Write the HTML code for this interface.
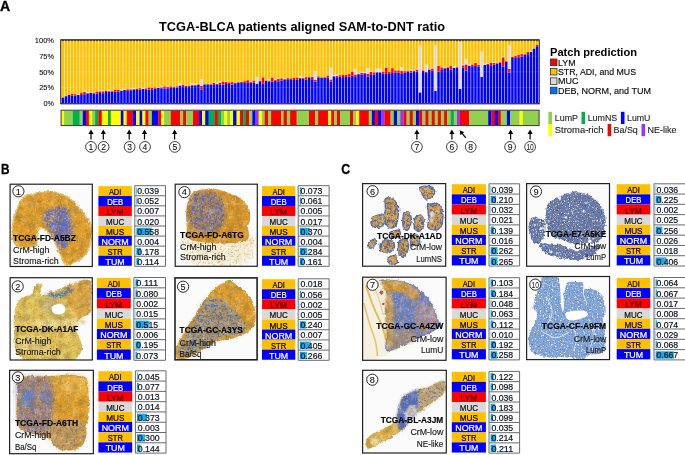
<!DOCTYPE html>
<html lang="en"><head><meta charset="utf-8"><title>TCGA-BLCA patients aligned SAM-to-DNT ratio</title>
<style>html,body{margin:0;padding:0;background:#fff}svg{display:block;font-family:"Liberation Sans", Arial, sans-serif}</style></head>
<body>
<svg width="685" height="455" viewBox="0 0 685 455">
<rect width="685" height="455" fill="#fff"/>
<text x="-0.10" y="10.70" font-size="15.2" text-anchor="start" font-weight="bold" stroke="#000" stroke-width="0.3" textLength="10.20" lengthAdjust="spacingAndGlyphs">A</text>
<text x="1.00" y="174.30" font-size="15.2" text-anchor="start" font-weight="bold" stroke="#000" stroke-width="0.35" textLength="8.50" lengthAdjust="spacingAndGlyphs">B</text>
<text x="341.20" y="174.40" font-size="15.2" text-anchor="start" font-weight="bold" stroke="#000" stroke-width="0.35" textLength="8.90" lengthAdjust="spacingAndGlyphs">C</text>
<text x="159.00" y="30.70" font-size="12.4" text-anchor="start" font-weight="bold" textLength="286.00" lengthAdjust="spacingAndGlyphs">TCGA-BLCA patients aligned SAM-to-DNT ratio</text>
<rect x="60.80" y="39.80" width="478.40" height="64.00" fill="#fff" stroke="#000" stroke-width="1.0"/>
<path fill="#FFC000" d="M61.68 40.40h2.52V97.45h-2.52zM64.76 40.40h2.52V96.14h-2.52zM67.83 40.40h2.52V94.94h-2.52zM70.91 40.40h2.52V93.81h-2.52zM73.99 40.40h2.52V94.31h-2.52zM77.07 40.40h2.52V93.93h-2.52zM80.15 40.40h2.52V93.09h-2.52zM83.23 40.40h2.52V90.99h-2.52zM86.31 40.40h2.52V92.54h-2.52zM89.39 40.40h2.52V93.01h-2.52zM92.46 40.40h2.52V93.01h-2.52zM95.54 40.40h2.52V91.65h-2.52zM98.62 40.40h2.52V90.08h-2.52zM101.70 40.40h2.52V90.56h-2.52zM104.78 40.40h2.52V91.03h-2.52zM107.86 40.40h2.52V90.55h-2.52zM110.94 40.40h2.52V91.32h-2.52zM114.02 40.40h2.52V90.06h-2.52zM117.09 40.40h2.52V90.09h-2.52zM120.17 40.40h2.52V89.36h-2.52zM123.25 40.40h2.52V89.29h-2.52zM126.33 40.40h2.52V89.62h-2.52zM129.41 40.40h2.52V88.44h-2.52zM132.49 40.40h2.52V88.44h-2.52zM135.57 40.40h2.52V89.08h-2.52zM138.64 40.40h2.52V88.15h-2.52zM141.72 40.40h2.52V87.88h-2.52zM144.80 40.40h2.52V88.38h-2.52zM147.88 40.40h2.52V87.61h-2.52zM150.96 40.40h2.52V87.80h-2.52zM154.04 40.40h2.52V87.58h-2.52zM157.12 40.40h2.52V88.02h-2.52zM160.20 40.40h2.52V86.16h-2.52zM163.27 40.40h2.52V86.52h-2.52zM166.35 40.40h2.52V85.81h-2.52zM169.43 40.40h2.52V86.58h-2.52zM172.51 40.40h2.52V87.16h-2.52zM175.59 40.40h2.52V86.51h-2.52zM178.67 40.40h2.52V83.00h-2.52zM181.75 40.40h2.52V84.95h-2.52zM184.83 40.40h2.52V84.75h-2.52zM187.90 40.40h2.52V85.64h-2.52zM190.98 40.40h2.52V83.51h-2.52zM194.06 40.40h2.52V83.77h-2.52zM197.14 40.40h2.52V84.45h-2.52zM200.22 40.40h2.52V79.00h-2.52zM203.30 40.40h2.52V84.52h-2.52zM206.38 40.40h2.52V83.89h-2.52zM209.46 40.40h2.52V84.23h-2.52zM212.53 40.40h2.52V82.33h-2.52zM215.61 40.40h2.52V82.67h-2.52zM218.69 40.40h2.52V81.25h-2.52zM221.77 40.40h2.52V81.70h-2.52zM224.85 40.40h2.52V81.05h-2.52zM227.93 40.40h2.52V82.54h-2.52zM231.01 40.40h2.52V82.23h-2.52zM234.08 40.40h2.52V83.18h-2.52zM237.16 40.40h2.52V82.61h-2.52zM240.24 40.40h2.52V82.27h-2.52zM243.32 40.40h2.52V81.17h-2.52zM246.40 40.40h2.52V80.20h-2.52zM249.48 40.40h2.52V81.23h-2.52zM252.56 40.40h2.52V80.63h-2.52zM255.64 40.40h2.52V77.50h-2.52zM258.71 40.40h2.52V81.25h-2.52zM261.79 40.40h2.52V77.50h-2.52zM264.87 40.40h2.52V80.85h-2.52zM267.95 40.40h2.52V79.44h-2.52zM271.03 40.40h2.52V77.80h-2.52zM274.11 40.40h2.52V79.23h-2.52zM277.19 40.40h2.52V78.35h-2.52zM280.27 40.40h2.52V78.51h-2.52zM283.34 40.40h2.52V78.06h-2.52zM286.42 40.40h2.52V78.19h-2.52zM289.50 40.40h2.52V78.41h-2.52zM292.58 40.40h2.52V78.12h-2.52zM295.66 40.40h2.52V77.82h-2.52zM298.74 40.40h2.52V76.58h-2.52zM301.82 40.40h2.52V77.21h-2.52zM304.90 40.40h2.52V77.23h-2.52zM307.97 40.40h2.52V77.17h-2.52zM311.05 40.40h2.52V76.32h-2.52zM314.13 40.40h2.52V71.00h-2.52zM317.21 40.40h2.52V76.59h-2.52zM320.29 40.40h2.52V77.38h-2.52zM323.37 40.40h2.52V77.19h-2.52zM326.45 40.40h2.52V75.86h-2.52zM329.52 40.40h2.52V67.80h-2.52zM332.60 40.40h2.52V75.07h-2.52zM335.68 40.40h2.52V74.86h-2.52zM338.76 40.40h2.52V75.14h-2.52zM341.84 40.40h2.52V74.84h-2.52zM344.92 40.40h2.52V74.89h-2.52zM348.00 40.40h2.52V74.22h-2.52zM351.08 40.40h2.52V71.70h-2.52zM354.15 40.40h2.52V69.00h-2.52zM357.23 40.40h2.52V73.09h-2.52zM360.31 40.40h2.52V71.96h-2.52zM363.39 40.40h2.52V72.37h-2.52zM366.47 40.40h2.52V68.00h-2.52zM369.55 40.40h2.52V70.89h-2.52zM372.63 40.40h2.52V72.55h-2.52zM375.71 40.40h2.52V68.80h-2.52zM378.78 40.40h2.52V68.80h-2.52zM381.86 40.40h2.52V71.79h-2.52zM384.94 40.40h2.52V67.80h-2.52zM388.02 40.40h2.52V71.74h-2.52zM391.10 40.40h2.52V68.30h-2.52zM394.18 40.40h2.52V70.79h-2.52zM397.26 40.40h2.52V70.61h-2.52zM400.34 40.40h2.52V67.20h-2.52zM403.41 40.40h2.52V71.30h-2.52zM406.49 40.40h2.52V70.95h-2.52zM409.57 40.40h2.52V69.41h-2.52zM412.65 40.40h2.52V71.31h-2.52zM415.73 40.40h2.52V68.85h-2.52zM418.81 40.40h2.52V45.70h-2.52zM421.89 40.40h2.52V70.47h-2.52zM424.96 40.40h2.52V64.80h-2.52zM428.04 40.40h2.52V69.80h-2.52zM431.12 40.40h2.52V67.84h-2.52zM434.20 40.40h2.52V45.00h-2.52zM437.28 40.40h2.52V66.00h-2.52zM440.36 40.40h2.52V67.44h-2.52zM443.44 40.40h2.52V67.00h-2.52zM446.52 40.40h2.52V67.51h-2.52zM449.59 40.40h2.52V66.00h-2.52zM452.67 40.40h2.52V66.55h-2.52zM455.75 40.40h2.52V67.61h-2.52zM458.83 40.40h2.52V42.50h-2.52zM461.91 40.40h2.52V64.13h-2.52zM464.99 40.40h2.52V59.40h-2.52zM468.07 40.40h2.52V64.38h-2.52zM471.15 40.40h2.52V64.81h-2.52zM474.22 40.40h2.52V63.00h-2.52zM477.30 40.40h2.52V64.29h-2.52zM480.38 40.40h2.52V51.00h-2.52zM483.46 40.40h2.52V63.82h-2.52zM486.54 40.40h2.52V63.35h-2.52zM489.62 40.40h2.52V63.02h-2.52zM492.70 40.40h2.52V62.14h-2.52zM495.78 40.40h2.52V63.56h-2.52zM498.85 40.40h2.52V62.25h-2.52zM501.93 40.40h2.52V56.00h-2.52zM505.01 40.40h2.52V61.22h-2.52zM508.09 40.40h2.52V45.20h-2.52zM511.17 40.40h2.52V57.07h-2.52zM514.25 40.40h2.52V54.63h-2.52zM517.33 40.40h2.52V55.00h-2.52zM520.40 40.40h2.52V54.24h-2.52zM523.48 40.40h2.52V54.41h-2.52zM526.56 40.40h2.52V52.01h-2.52zM529.64 40.40h2.52V51.35h-2.52zM532.72 40.40h2.52V48.66h-2.52zM535.80 40.40h2.52V44.98h-2.52z"/>
<path fill="#0000FF" d="M61.68 98.08h2.52V103.20h-2.52zM64.76 96.14h2.52V103.20h-2.52zM67.83 94.94h2.52V103.20h-2.52zM70.91 95.69h2.52V103.20h-2.52zM73.99 95.70h2.52V103.20h-2.52zM77.07 94.68h2.52V103.20h-2.52zM80.15 94.98h2.52V103.20h-2.52zM83.23 94.32h2.52V103.20h-2.52zM86.31 93.30h2.52V103.20h-2.52zM89.39 93.01h2.52V103.20h-2.52zM92.46 93.51h2.52V103.20h-2.52zM95.54 93.53h2.52V103.20h-2.52zM98.62 93.09h2.52V103.20h-2.52zM101.70 93.19h2.52V103.20h-2.52zM104.78 91.97h2.52V103.20h-2.52zM107.86 91.30h2.52V103.20h-2.52zM110.94 91.82h2.52V103.20h-2.52zM114.02 91.45h2.52V103.20h-2.52zM117.09 91.47h2.52V103.20h-2.52zM120.17 90.99h2.52V103.20h-2.52zM123.25 90.04h2.52V103.20h-2.52zM126.33 91.00h2.52V103.20h-2.52zM129.41 90.14h2.52V103.20h-2.52zM132.49 89.20h2.52V103.20h-2.52zM135.57 90.02h2.52V103.20h-2.52zM138.64 89.53h2.52V103.20h-2.52zM141.72 88.64h2.52V103.20h-2.52zM144.80 89.32h2.52V103.20h-2.52zM147.88 89.49h2.52V103.20h-2.52zM150.96 89.18h2.52V103.20h-2.52zM154.04 88.53h2.52V103.20h-2.52zM157.12 88.02h2.52V103.20h-2.52zM160.20 88.23h2.52V103.20h-2.52zM163.27 88.72h2.52V103.20h-2.52zM166.35 88.32h2.52V103.20h-2.52zM169.43 87.97h2.52V103.20h-2.52zM172.51 87.16h2.52V103.20h-2.52zM175.59 87.45h2.52V103.20h-2.52zM178.67 85.50h2.52V103.20h-2.52zM181.75 86.33h2.52V103.20h-2.52zM184.83 86.89h2.52V103.20h-2.52zM187.90 86.14h2.52V103.20h-2.52zM190.98 85.58h2.52V103.20h-2.52zM194.06 85.84h2.52V103.20h-2.52zM197.14 84.95h2.52V103.20h-2.52zM200.22 89.50h2.52V103.20h-2.52zM203.30 84.52h2.52V103.20h-2.52zM206.38 84.39h2.52V103.20h-2.52zM209.46 84.74h2.52V103.20h-2.52zM212.53 84.97h2.52V103.20h-2.52zM215.61 84.30h2.52V103.20h-2.52zM218.69 84.26h2.52V103.20h-2.52zM221.77 84.50h2.52V103.20h-2.52zM224.85 84.00h2.52V103.20h-2.52zM227.93 83.92h2.52V103.20h-2.52zM231.01 84.43h2.52V103.20h-2.52zM234.08 83.18h2.52V103.20h-2.52zM237.16 82.61h2.52V103.20h-2.52zM240.24 82.27h2.52V103.20h-2.52zM243.32 83.05h2.52V103.20h-2.52zM246.40 83.00h2.52V103.20h-2.52zM249.48 82.48h2.52V103.20h-2.52zM252.56 82.83h2.52V103.20h-2.52zM255.64 83.70h2.52V103.20h-2.52zM258.71 81.25h2.52V103.20h-2.52zM261.79 83.70h2.52V103.20h-2.52zM264.87 80.85h2.52V103.20h-2.52zM267.95 81.51h2.52V103.20h-2.52zM271.03 81.40h2.52V103.20h-2.52zM274.11 80.49h2.52V103.20h-2.52zM277.19 81.30h2.52V103.20h-2.52zM280.27 80.39h2.52V103.20h-2.52zM283.34 79.19h2.52V103.20h-2.52zM286.42 80.08h2.52V103.20h-2.52zM289.50 79.35h2.52V103.20h-2.52zM292.58 80.00h2.52V103.20h-2.52zM295.66 79.71h2.52V103.20h-2.52zM298.74 79.09h2.52V103.20h-2.52zM301.82 78.46h2.52V103.20h-2.52zM304.90 79.43h2.52V103.20h-2.52zM307.97 78.11h2.52V103.20h-2.52zM311.05 79.28h2.52V103.20h-2.52zM314.13 81.80h2.52V103.20h-2.52zM317.21 77.53h2.52V103.20h-2.52zM320.29 77.88h2.52V103.20h-2.52zM323.37 77.69h2.52V103.20h-2.52zM326.45 77.74h2.52V103.20h-2.52zM329.52 81.70h2.52V103.20h-2.52zM332.60 76.20h2.52V103.20h-2.52zM335.68 77.37h2.52V103.20h-2.52zM338.76 76.52h2.52V103.20h-2.52zM341.84 77.04h2.52V103.20h-2.52zM344.92 77.09h2.52V103.20h-2.52zM348.00 76.42h2.52V103.20h-2.52zM351.08 75.20h2.52V103.20h-2.52zM354.15 77.00h2.52V103.20h-2.52zM357.23 74.34h2.52V103.20h-2.52zM360.31 74.47h2.52V103.20h-2.52zM363.39 73.62h2.52V103.20h-2.52zM366.47 76.80h2.52V103.20h-2.52zM369.55 74.22h2.52V103.20h-2.52zM372.63 74.74h2.52V103.20h-2.52zM375.71 72.20h2.52V103.20h-2.52zM378.78 72.20h2.52V103.20h-2.52zM381.86 73.68h2.52V103.20h-2.52zM384.94 74.00h2.52V103.20h-2.52zM388.02 73.93h2.52V103.20h-2.52zM391.10 73.00h2.52V103.20h-2.52zM394.18 72.68h2.52V103.20h-2.52zM397.26 72.50h2.52V103.20h-2.52zM400.34 74.00h2.52V103.20h-2.52zM403.41 72.68h2.52V103.20h-2.52zM406.49 71.46h2.52V103.20h-2.52zM409.57 72.42h2.52V103.20h-2.52zM412.65 71.31h2.52V103.20h-2.52zM415.73 71.49h2.52V103.20h-2.52zM418.81 93.00h2.52V103.20h-2.52zM421.89 70.97h2.52V103.20h-2.52zM424.96 73.00h2.52V103.20h-2.52zM428.04 69.80h2.52V103.20h-2.52zM431.12 70.48h2.52V103.20h-2.52zM434.20 91.00h2.52V103.20h-2.52zM437.28 71.70h2.52V103.20h-2.52zM440.36 69.33h2.52V103.20h-2.52zM443.44 68.70h2.52V103.20h-2.52zM446.52 68.01h2.52V103.20h-2.52zM449.59 69.50h2.52V103.20h-2.52zM452.67 67.68h2.52V103.20h-2.52zM455.75 67.61h2.52V103.20h-2.52zM458.83 89.00h2.52V103.20h-2.52zM461.91 67.46h2.52V103.20h-2.52zM464.99 70.60h2.52V103.20h-2.52zM468.07 66.02h2.52V103.20h-2.52zM471.15 66.19h2.52V103.20h-2.52zM474.22 66.00h2.52V103.20h-2.52zM477.30 66.42h2.52V103.20h-2.52zM480.38 76.80h2.52V103.20h-2.52zM483.46 64.95h2.52V103.20h-2.52zM486.54 65.05h2.52V103.20h-2.52zM489.62 65.22h2.52V103.20h-2.52zM492.70 64.78h2.52V103.20h-2.52zM495.78 63.56h2.52V103.20h-2.52zM498.85 62.75h2.52V103.20h-2.52zM501.93 66.80h2.52V103.20h-2.52zM505.01 61.73h2.52V103.20h-2.52zM508.09 72.50h2.52V103.20h-2.52zM511.17 58.01h2.52V103.20h-2.52zM514.25 57.27h2.52V103.20h-2.52zM517.33 58.00h2.52V103.20h-2.52zM520.40 56.44h2.52V103.20h-2.52zM523.48 54.41h2.52V103.20h-2.52zM526.56 54.20h2.52V103.20h-2.52zM529.64 52.10h2.52V103.20h-2.52zM532.72 48.66h2.52V103.20h-2.52zM535.80 46.37h2.52V103.20h-2.52z"/>
<path fill="#FF0000" d="M61.68 97.45h2.52V98.08h-2.52zM70.91 93.81h2.52V95.69h-2.52zM73.99 94.31h2.52V95.70h-2.52zM80.15 93.09h2.52V94.98h-2.52zM83.23 92.12h2.52V94.32h-2.52zM92.46 93.01h2.52V93.51h-2.52zM95.54 91.65h2.52V93.53h-2.52zM98.62 91.21h2.52V93.09h-2.52zM101.70 91.31h2.52V93.19h-2.52zM104.78 91.03h2.52V91.97h-2.52zM110.94 91.32h2.52V91.82h-2.52zM114.02 90.06h2.52V91.45h-2.52zM117.09 90.09h2.52V91.47h-2.52zM120.17 90.49h2.52V90.99h-2.52zM126.33 89.62h2.52V91.00h-2.52zM129.41 89.19h2.52V90.14h-2.52zM135.57 89.08h2.52V90.02h-2.52zM138.64 88.15h2.52V89.53h-2.52zM144.80 88.38h2.52V89.32h-2.52zM147.88 87.61h2.52V89.49h-2.52zM150.96 87.80h2.52V89.18h-2.52zM154.04 87.58h2.52V88.53h-2.52zM160.20 87.29h2.52V88.23h-2.52zM163.27 86.52h2.52V88.72h-2.52zM166.35 86.94h2.52V88.32h-2.52zM169.43 86.58h2.52V87.97h-2.52zM175.59 86.51h2.52V87.45h-2.52zM181.75 84.95h2.52V86.33h-2.52zM184.83 85.51h2.52V86.89h-2.52zM187.90 85.64h2.52V86.14h-2.52zM190.98 84.64h2.52V85.58h-2.52zM194.06 84.90h2.52V85.84h-2.52zM197.14 84.45h2.52V84.95h-2.52zM200.22 86.00h2.52V89.50h-2.52zM206.38 83.89h2.52V84.39h-2.52zM209.46 84.23h2.52V84.74h-2.52zM212.53 83.08h2.52V84.97h-2.52zM215.61 83.80h2.52V84.30h-2.52zM218.69 82.38h2.52V84.26h-2.52zM221.77 81.70h2.52V84.50h-2.52zM224.85 81.81h2.52V84.00h-2.52zM227.93 82.54h2.52V83.92h-2.52zM231.01 82.23h2.52V84.43h-2.52zM243.32 81.17h2.52V83.05h-2.52zM246.40 80.20h2.52V83.00h-2.52zM249.48 81.98h2.52V82.48h-2.52zM252.56 80.63h2.52V82.83h-2.52zM261.79 77.50h2.52V83.70h-2.52zM267.95 80.57h2.52V81.51h-2.52zM271.03 77.80h2.52V81.40h-2.52zM274.11 79.99h2.52V80.49h-2.52zM277.19 79.10h2.52V81.30h-2.52zM280.27 78.51h2.52V80.39h-2.52zM286.42 78.19h2.52V80.08h-2.52zM289.50 78.41h2.52V79.35h-2.52zM292.58 78.12h2.52V80.00h-2.52zM295.66 77.82h2.52V79.71h-2.52zM298.74 77.71h2.52V79.09h-2.52zM301.82 77.96h2.52V78.46h-2.52zM304.90 77.23h2.52V79.43h-2.52zM307.97 77.17h2.52V78.11h-2.52zM311.05 77.08h2.52V79.28h-2.52zM314.13 79.80h2.52V81.80h-2.52zM317.21 76.59h2.52V77.53h-2.52zM320.29 77.38h2.52V77.88h-2.52zM323.37 77.19h2.52V77.69h-2.52zM326.45 75.86h2.52V77.74h-2.52zM329.52 79.50h2.52V81.70h-2.52zM335.68 75.99h2.52V77.37h-2.52zM338.76 75.14h2.52V76.52h-2.52zM341.84 74.84h2.52V77.04h-2.52zM344.92 74.89h2.52V77.09h-2.52zM348.00 74.22h2.52V76.42h-2.52zM351.08 71.70h2.52V75.20h-2.52zM354.15 74.50h2.52V77.00h-2.52zM357.23 73.84h2.52V74.34h-2.52zM360.31 73.09h2.52V74.47h-2.52zM363.39 73.12h2.52V73.62h-2.52zM366.47 73.70h2.52V76.80h-2.52zM369.55 72.02h2.52V74.22h-2.52zM372.63 72.55h2.52V74.74h-2.52zM381.86 71.79h2.52V73.68h-2.52zM384.94 67.80h2.52V74.00h-2.52zM388.02 71.74h2.52V73.93h-2.52zM391.10 68.30h2.52V73.00h-2.52zM394.18 70.79h2.52V72.68h-2.52zM397.26 70.61h2.52V72.50h-2.52zM400.34 71.00h2.52V74.00h-2.52zM403.41 71.30h2.52V72.68h-2.52zM406.49 70.95h2.52V71.46h-2.52zM409.57 70.54h2.52V72.42h-2.52zM415.73 69.61h2.52V71.49h-2.52zM418.81 92.20h2.52V93.00h-2.52zM421.89 70.47h2.52V70.97h-2.52zM424.96 71.70h2.52V73.00h-2.52zM431.12 68.60h2.52V70.48h-2.52zM437.28 66.00h2.52V71.70h-2.52zM440.36 67.44h2.52V69.33h-2.52zM443.44 67.75h2.52V68.70h-2.52zM446.52 67.51h2.52V68.01h-2.52zM449.59 66.00h2.52V69.50h-2.52zM461.91 65.26h2.52V67.46h-2.52zM464.99 64.50h2.52V70.60h-2.52zM468.07 65.51h2.52V66.02h-2.52zM471.15 64.81h2.52V66.19h-2.52zM474.22 63.00h2.52V66.00h-2.52zM477.30 65.04h2.52V66.42h-2.52zM486.54 64.11h2.52V65.05h-2.52zM489.62 63.02h2.52V65.22h-2.52zM492.70 62.89h2.52V64.78h-2.52zM498.85 62.25h2.52V62.75h-2.52zM501.93 57.20h2.52V66.80h-2.52zM505.01 61.22h2.52V61.73h-2.52zM508.09 68.80h2.52V72.50h-2.52zM511.17 57.07h2.52V58.01h-2.52zM514.25 55.39h2.52V57.27h-2.52zM517.33 55.00h2.52V58.00h-2.52zM520.40 54.24h2.52V56.44h-2.52zM526.56 52.01h2.52V54.20h-2.52zM535.80 44.98h2.52V46.37h-2.52z"/>
<path fill="#D9D9D9" d="M77.07 93.93h2.52V94.68h-2.52zM83.23 90.99h2.52V92.12h-2.52zM86.31 92.54h2.52V93.30h-2.52zM98.62 90.08h2.52V91.21h-2.52zM101.70 90.56h2.52V91.31h-2.52zM107.86 90.55h2.52V91.30h-2.52zM120.17 89.36h2.52V90.49h-2.52zM123.25 89.29h2.52V90.04h-2.52zM129.41 88.44h2.52V89.19h-2.52zM132.49 88.44h2.52V89.20h-2.52zM141.72 87.88h2.52V88.64h-2.52zM160.20 86.16h2.52V87.29h-2.52zM166.35 85.81h2.52V86.94h-2.52zM178.67 83.00h2.52V85.50h-2.52zM184.83 84.75h2.52V85.51h-2.52zM190.98 83.51h2.52V84.64h-2.52zM194.06 83.77h2.52V84.90h-2.52zM200.22 79.00h2.52V86.00h-2.52zM212.53 82.33h2.52V83.08h-2.52zM215.61 82.67h2.52V83.80h-2.52zM218.69 81.25h2.52V82.38h-2.52zM224.85 81.05h2.52V81.81h-2.52zM249.48 81.23h2.52V81.98h-2.52zM255.64 77.50h2.52V83.70h-2.52zM267.95 79.44h2.52V80.57h-2.52zM274.11 79.23h2.52V79.99h-2.52zM277.19 78.35h2.52V79.10h-2.52zM283.34 78.06h2.52V79.19h-2.52zM298.74 76.58h2.52V77.71h-2.52zM301.82 77.21h2.52V77.96h-2.52zM311.05 76.32h2.52V77.08h-2.52zM314.13 71.00h2.52V79.80h-2.52zM329.52 67.80h2.52V79.50h-2.52zM332.60 75.07h2.52V76.20h-2.52zM335.68 74.86h2.52V75.99h-2.52zM354.15 69.00h2.52V74.50h-2.52zM357.23 73.09h2.52V73.84h-2.52zM360.31 71.96h2.52V73.09h-2.52zM363.39 72.37h2.52V73.12h-2.52zM366.47 68.00h2.52V73.70h-2.52zM369.55 70.89h2.52V72.02h-2.52zM375.71 68.80h2.52V72.20h-2.52zM378.78 68.80h2.52V72.20h-2.52zM400.34 67.20h2.52V71.00h-2.52zM409.57 69.41h2.52V70.54h-2.52zM415.73 68.85h2.52V69.61h-2.52zM418.81 45.70h2.52V92.20h-2.52zM424.96 64.80h2.52V71.70h-2.52zM431.12 67.84h2.52V68.60h-2.52zM434.20 45.00h2.52V91.00h-2.52zM443.44 67.00h2.52V67.75h-2.52zM452.67 66.55h2.52V67.68h-2.52zM458.83 42.50h2.52V89.00h-2.52zM461.91 64.13h2.52V65.26h-2.52zM464.99 59.40h2.52V64.50h-2.52zM468.07 64.38h2.52V65.51h-2.52zM477.30 64.29h2.52V65.04h-2.52zM480.38 51.00h2.52V76.80h-2.52zM483.46 63.82h2.52V64.95h-2.52zM486.54 63.35h2.52V64.11h-2.52zM492.70 62.14h2.52V62.89h-2.52zM501.93 56.00h2.52V57.20h-2.52zM508.09 45.20h2.52V68.80h-2.52zM514.25 54.63h2.52V55.39h-2.52zM529.64 51.35h2.52V52.10h-2.52z"/>
<line x1="61.4" x2="538.6" y1="56.10" y2="56.10" stroke="#fff" stroke-opacity="0.18" stroke-width="0.6"/>
<line x1="61.4" x2="538.6" y1="71.80" y2="71.80" stroke="#fff" stroke-opacity="0.18" stroke-width="0.6"/>
<line x1="61.4" x2="538.6" y1="87.50" y2="87.50" stroke="#fff" stroke-opacity="0.18" stroke-width="0.6"/>
<line x1="61.68" x2="538.6" y1="40.60" y2="40.60" stroke="#000" stroke-width="0.9" stroke-dasharray="2.525 0.554" stroke-opacity="0.8"/>
<text x="54.00" y="43.10" font-size="7.7" text-anchor="end" fill="#111" stroke="#111" stroke-width="0.1" textLength="19.20" lengthAdjust="spacingAndGlyphs">100%</text>
<text x="54.00" y="58.80" font-size="7.7" text-anchor="end" fill="#111" stroke="#111" stroke-width="0.1" textLength="14.80" lengthAdjust="spacingAndGlyphs">75%</text>
<text x="54.00" y="74.50" font-size="7.7" text-anchor="end" fill="#111" stroke="#111" stroke-width="0.1" textLength="14.80" lengthAdjust="spacingAndGlyphs">50%</text>
<text x="54.00" y="90.20" font-size="7.7" text-anchor="end" fill="#111" stroke="#111" stroke-width="0.1" textLength="14.80" lengthAdjust="spacingAndGlyphs">25%</text>
<text x="54.00" y="105.90" font-size="7.7" text-anchor="end" fill="#111" stroke="#111" stroke-width="0.1" textLength="10.40" lengthAdjust="spacingAndGlyphs">0%</text>
<rect x="61.40" y="110.6" width="2.85" height="14.60" fill="#FFFF00"/>
<rect x="64.10" y="110.6" width="8.95" height="14.60" fill="#92D050"/>
<rect x="72.90" y="110.6" width="6.95" height="14.60" fill="#00B050"/>
<rect x="79.70" y="110.6" width="3.25" height="14.60" fill="#92D050"/>
<rect x="82.80" y="110.6" width="3.35" height="14.60" fill="#0000FF"/>
<rect x="86.00" y="110.6" width="3.05" height="14.60" fill="#FF0000"/>
<rect x="88.90" y="110.6" width="3.35" height="14.60" fill="#FFFF00"/>
<rect x="92.10" y="110.6" width="3.15" height="14.60" fill="#92D050"/>
<rect x="95.10" y="110.6" width="3.35" height="14.60" fill="#00B050"/>
<rect x="98.30" y="110.6" width="3.65" height="14.60" fill="#FF0000"/>
<rect x="101.80" y="110.6" width="6.35" height="14.60" fill="#FFFF00"/>
<rect x="108.00" y="110.6" width="2.95" height="14.60" fill="#00B050"/>
<rect x="110.80" y="110.6" width="10.15" height="14.60" fill="#FFFF00"/>
<rect x="120.80" y="110.6" width="2.95" height="14.60" fill="#0000FF"/>
<rect x="123.60" y="110.6" width="3.25" height="14.60" fill="#FFFF00"/>
<rect x="126.70" y="110.6" width="6.15" height="14.60" fill="#FF0000"/>
<rect x="132.70" y="110.6" width="3.55" height="14.60" fill="#0000FF"/>
<rect x="136.10" y="110.6" width="3.65" height="14.60" fill="#FFFF00"/>
<rect x="139.60" y="110.6" width="2.95" height="14.60" fill="#0000FF"/>
<rect x="142.40" y="110.6" width="3.15" height="14.60" fill="#FFFF00"/>
<rect x="145.40" y="110.6" width="3.35" height="14.60" fill="#FF0000"/>
<rect x="148.60" y="110.6" width="3.45" height="14.60" fill="#92D050"/>
<rect x="151.90" y="110.6" width="6.55" height="14.60" fill="#0000FF"/>
<rect x="158.30" y="110.6" width="2.95" height="14.60" fill="#FF0000"/>
<rect x="161.10" y="110.6" width="3.15" height="14.60" fill="#FFFF00"/>
<rect x="164.10" y="110.6" width="6.85" height="14.60" fill="#92D050"/>
<rect x="170.80" y="110.6" width="9.45" height="14.60" fill="#FF0000"/>
<rect x="180.10" y="110.6" width="3.15" height="14.60" fill="#92D050"/>
<rect x="183.10" y="110.6" width="3.25" height="14.60" fill="#FF0000"/>
<rect x="186.20" y="110.6" width="6.95" height="14.60" fill="#92D050"/>
<rect x="193.00" y="110.6" width="6.25" height="14.60" fill="#FF0000"/>
<rect x="199.10" y="110.6" width="3.15" height="14.60" fill="#0000FF"/>
<rect x="202.10" y="110.6" width="3.25" height="14.60" fill="#FFFF00"/>
<rect x="205.20" y="110.6" width="3.65" height="14.60" fill="#0000FF"/>
<rect x="208.70" y="110.6" width="6.15" height="14.60" fill="#00B050"/>
<rect x="214.70" y="110.6" width="3.25" height="14.60" fill="#FF0000"/>
<rect x="217.80" y="110.6" width="3.25" height="14.60" fill="#00B050"/>
<rect x="220.90" y="110.6" width="3.25" height="14.60" fill="#92D050"/>
<rect x="224.00" y="110.6" width="3.35" height="14.60" fill="#FFFF00"/>
<rect x="227.20" y="110.6" width="2.85" height="14.60" fill="#92D050"/>
<rect x="229.90" y="110.6" width="3.35" height="14.60" fill="#FFFF00"/>
<rect x="233.10" y="110.6" width="3.65" height="14.60" fill="#0000FF"/>
<rect x="236.60" y="110.6" width="3.55" height="14.60" fill="#FFFF00"/>
<rect x="240.00" y="110.6" width="3.25" height="14.60" fill="#FF0000"/>
<rect x="243.10" y="110.6" width="3.05" height="14.60" fill="#00B050"/>
<rect x="246.00" y="110.6" width="3.25" height="14.60" fill="#FF0000"/>
<rect x="249.10" y="110.6" width="3.35" height="14.60" fill="#92D050"/>
<rect x="252.30" y="110.6" width="3.35" height="14.60" fill="#0000FF"/>
<rect x="255.50" y="110.6" width="3.35" height="14.60" fill="#9933FF"/>
<rect x="258.70" y="110.6" width="3.45" height="14.60" fill="#FFFF00"/>
<rect x="262.00" y="110.6" width="2.85" height="14.60" fill="#92D050"/>
<rect x="264.70" y="110.6" width="3.45" height="14.60" fill="#FF0000"/>
<rect x="268.00" y="110.6" width="3.25" height="14.60" fill="#92D050"/>
<rect x="271.10" y="110.6" width="10.05" height="14.60" fill="#FF0000"/>
<rect x="281.00" y="110.6" width="2.75" height="14.60" fill="#92D050"/>
<rect x="283.60" y="110.6" width="3.45" height="14.60" fill="#FF0000"/>
<rect x="286.90" y="110.6" width="3.35" height="14.60" fill="#92D050"/>
<rect x="290.10" y="110.6" width="6.75" height="14.60" fill="#FF0000"/>
<rect x="296.70" y="110.6" width="12.45" height="14.60" fill="#92D050"/>
<rect x="309.00" y="110.6" width="6.35" height="14.60" fill="#FF0000"/>
<rect x="315.20" y="110.6" width="3.05" height="14.60" fill="#92D050"/>
<rect x="318.10" y="110.6" width="10.05" height="14.60" fill="#FF0000"/>
<rect x="328.00" y="110.6" width="3.35" height="14.60" fill="#FFFF00"/>
<rect x="331.20" y="110.6" width="3.05" height="14.60" fill="#FF0000"/>
<rect x="334.10" y="110.6" width="3.05" height="14.60" fill="#92D050"/>
<rect x="337.00" y="110.6" width="3.25" height="14.60" fill="#FF0000"/>
<rect x="340.10" y="110.6" width="10.05" height="14.60" fill="#92D050"/>
<rect x="350.00" y="110.6" width="3.35" height="14.60" fill="#FF0000"/>
<rect x="353.20" y="110.6" width="3.05" height="14.60" fill="#92D050"/>
<rect x="356.10" y="110.6" width="3.25" height="14.60" fill="#FFFF00"/>
<rect x="359.20" y="110.6" width="9.75" height="14.60" fill="#FF0000"/>
<rect x="368.80" y="110.6" width="3.25" height="14.60" fill="#92D050"/>
<rect x="371.90" y="110.6" width="3.05" height="14.60" fill="#0000FF"/>
<rect x="374.80" y="110.6" width="3.35" height="14.60" fill="#FF0000"/>
<rect x="378.00" y="110.6" width="3.45" height="14.60" fill="#0000FF"/>
<rect x="381.30" y="110.6" width="3.25" height="14.60" fill="#9933FF"/>
<rect x="384.40" y="110.6" width="6.35" height="14.60" fill="#FF0000"/>
<rect x="390.60" y="110.6" width="3.35" height="14.60" fill="#92D050"/>
<rect x="393.80" y="110.6" width="3.35" height="14.60" fill="#0000FF"/>
<rect x="397.00" y="110.6" width="3.35" height="14.60" fill="#92D050"/>
<rect x="400.20" y="110.6" width="3.45" height="14.60" fill="#9933FF"/>
<rect x="403.50" y="110.6" width="3.25" height="14.60" fill="#FF0000"/>
<rect x="406.60" y="110.6" width="3.25" height="14.60" fill="#92D050"/>
<rect x="409.70" y="110.6" width="3.25" height="14.60" fill="#FF0000"/>
<rect x="412.80" y="110.6" width="3.35" height="14.60" fill="#92D050"/>
<rect x="416.00" y="110.6" width="3.35" height="14.60" fill="#0000FF"/>
<rect x="419.20" y="110.6" width="3.35" height="14.60" fill="#FF0000"/>
<rect x="422.40" y="110.6" width="3.15" height="14.60" fill="#92D050"/>
<rect x="425.40" y="110.6" width="3.35" height="14.60" fill="#FF0000"/>
<rect x="428.60" y="110.6" width="3.25" height="14.60" fill="#92D050"/>
<rect x="431.70" y="110.6" width="3.25" height="14.60" fill="#FF0000"/>
<rect x="434.80" y="110.6" width="3.25" height="14.60" fill="#92D050"/>
<rect x="437.90" y="110.6" width="3.15" height="14.60" fill="#FF0000"/>
<rect x="440.90" y="110.6" width="3.35" height="14.60" fill="#92D050"/>
<rect x="444.10" y="110.6" width="3.15" height="14.60" fill="#FF0000"/>
<rect x="447.10" y="110.6" width="3.65" height="14.60" fill="#92D050"/>
<rect x="450.60" y="110.6" width="3.35" height="14.60" fill="#00B050"/>
<rect x="453.80" y="110.6" width="3.35" height="14.60" fill="#92D050"/>
<rect x="457.00" y="110.6" width="3.15" height="14.60" fill="#9933FF"/>
<rect x="460.00" y="110.6" width="9.45" height="14.60" fill="#FF0000"/>
<rect x="469.30" y="110.6" width="19.05" height="14.60" fill="#92D050"/>
<rect x="488.20" y="110.6" width="3.45" height="14.60" fill="#0000FF"/>
<rect x="491.50" y="110.6" width="3.55" height="14.60" fill="#FF0000"/>
<rect x="494.90" y="110.6" width="3.15" height="14.60" fill="#0000FF"/>
<rect x="497.90" y="110.6" width="3.05" height="14.60" fill="#FF0000"/>
<rect x="500.80" y="110.6" width="6.25" height="14.60" fill="#92D050"/>
<rect x="506.90" y="110.6" width="3.25" height="14.60" fill="#0000FF"/>
<rect x="510.00" y="110.6" width="9.75" height="14.60" fill="#92D050"/>
<rect x="519.60" y="110.6" width="3.35" height="14.60" fill="#FFFF00"/>
<rect x="522.80" y="110.6" width="16.15" height="14.60" fill="#92D050"/>
<rect x="61.10" y="110.20" width="478.00" height="15.40" fill="none" stroke="#333" stroke-width="1"/>
<path d="M91.00 129.40l2.6 4.6h-2v5.60h-1.2v-5.60h-2z" fill="#000"/>
<circle cx="91.00" cy="146.90" r="5.4" fill="#fff" stroke="#111" stroke-width="0.8"/>
<text x="91.00" y="150.00" font-size="8.6" text-anchor="middle" fill="#111" stroke="#111" stroke-width="0.1">1</text>
<path d="M103.30 129.40l2.6 4.6h-2v5.60h-1.2v-5.60h-2z" fill="#000"/>
<circle cx="103.60" cy="146.90" r="5.4" fill="#fff" stroke="#111" stroke-width="0.8"/>
<text x="103.60" y="150.00" font-size="8.6" text-anchor="middle" fill="#111" stroke="#111" stroke-width="0.1">2</text>
<path d="M129.20 129.40l2.6 4.6h-2v5.60h-1.2v-5.60h-2z" fill="#000"/>
<circle cx="129.60" cy="146.90" r="5.4" fill="#fff" stroke="#111" stroke-width="0.8"/>
<text x="129.60" y="150.00" font-size="8.6" text-anchor="middle" fill="#111" stroke="#111" stroke-width="0.1">3</text>
<path d="M144.50 129.40l2.6 4.6h-2v5.60h-1.2v-5.60h-2z" fill="#000"/>
<circle cx="145.00" cy="146.90" r="5.4" fill="#fff" stroke="#111" stroke-width="0.8"/>
<text x="145.00" y="150.00" font-size="8.6" text-anchor="middle" fill="#111" stroke="#111" stroke-width="0.1">4</text>
<path d="M174.60 129.40l2.6 4.6h-2v5.60h-1.2v-5.60h-2z" fill="#000"/>
<circle cx="174.80" cy="146.90" r="5.4" fill="#fff" stroke="#111" stroke-width="0.8"/>
<text x="174.80" y="150.00" font-size="8.6" text-anchor="middle" fill="#111" stroke="#111" stroke-width="0.1">5</text>
<path d="M416.90 129.40l2.6 4.6h-2v5.60h-1.2v-5.60h-2z" fill="#000"/>
<circle cx="416.90" cy="146.90" r="5.4" fill="#fff" stroke="#111" stroke-width="0.8"/>
<text x="416.90" y="150.00" font-size="8.6" text-anchor="middle" fill="#111" stroke="#111" stroke-width="0.1">7</text>
<path d="M451.90 129.40l2.6 4.6h-2v5.60h-1.2v-5.60h-2z" fill="#000"/>
<circle cx="451.90" cy="146.90" r="5.4" fill="#fff" stroke="#111" stroke-width="0.8"/>
<text x="451.90" y="150.00" font-size="8.6" text-anchor="middle" fill="#111" stroke="#111" stroke-width="0.1">6</text>
<path d="M510.60 129.40l2.6 4.6h-2v5.60h-1.2v-5.60h-2z" fill="#000"/>
<circle cx="510.10" cy="146.90" r="5.4" fill="#fff" stroke="#111" stroke-width="0.8"/>
<text x="510.10" y="150.00" font-size="8.6" text-anchor="middle" fill="#111" stroke="#111" stroke-width="0.1">9</text>
<path d="M530.10 129.40l2.6 4.6h-2v5.60h-1.2v-5.60h-2z" fill="#000"/>
<circle cx="530.10" cy="146.90" r="5.4" fill="#fff" stroke="#111" stroke-width="0.8"/>
<text x="530.10" y="150.00" font-size="8.6" text-anchor="middle" fill="#111" textLength="7.40" lengthAdjust="spacingAndGlyphs">10</text>
<circle cx="470.70" cy="146.90" r="5.4" fill="#fff" stroke="#111" stroke-width="0.8"/>
<text x="470.70" y="150.00" font-size="8.6" text-anchor="middle" fill="#111" stroke="#111" stroke-width="0.1">8</text>
<g transform="translate(459.6 130.3) rotate(-39)"><path d="M0 0l2.4 4.4h-1.8v5.4h-1.2v-5.4h-1.8z" fill="#000"/></g>
<text x="550.00" y="56.20" font-size="11.5" text-anchor="start" font-weight="bold" textLength="87.00" lengthAdjust="spacingAndGlyphs">Patch prediction</text>
<rect x="550.4" y="59.00" width="6.6" height="6.6" fill="#FF0000" stroke="#333" stroke-width="0.8"/>
<text x="558.00" y="65.50" font-size="9.2" text-anchor="start" fill="#0a0a0a" stroke="#0a0a0a" stroke-width="0.15" textLength="17.50" lengthAdjust="spacingAndGlyphs">LYM</text>
<rect x="550.4" y="68.40" width="6.6" height="6.6" fill="#FFC000" stroke="#333" stroke-width="0.8"/>
<text x="558.00" y="74.90" font-size="9.2" text-anchor="start" fill="#0a0a0a" stroke="#0a0a0a" stroke-width="0.15" textLength="78.00" lengthAdjust="spacingAndGlyphs">STR, ADI, and MUS</text>
<rect x="550.4" y="77.80" width="6.6" height="6.6" fill="#D9D9D9" stroke="#333" stroke-width="0.8"/>
<text x="558.00" y="84.30" font-size="9.2" text-anchor="start" fill="#0a0a0a" stroke="#0a0a0a" stroke-width="0.15" textLength="20.50" lengthAdjust="spacingAndGlyphs">MUC</text>
<rect x="550.4" y="87.20" width="6.6" height="6.6" fill="#0070FF" stroke="#333" stroke-width="0.8"/>
<text x="558.00" y="93.70" font-size="9.2" text-anchor="start" fill="#0a0a0a" stroke="#0a0a0a" stroke-width="0.15" textLength="93.00" lengthAdjust="spacingAndGlyphs">DEB, NORM, and TUM</text>
<rect x="548.40" y="111.80" width="3.6" height="12.2" fill="#92D050"/>
<text x="554.80" y="120.50" font-size="9.8" text-anchor="start" fill="#222" stroke="#222" stroke-width="0.12" textLength="23.20" lengthAdjust="spacingAndGlyphs">LumP</text>
<rect x="581.50" y="111.80" width="3.6" height="12.2" fill="#00B050"/>
<text x="587.70" y="120.50" font-size="9.8" text-anchor="start" fill="#222" stroke="#222" stroke-width="0.12" textLength="29.60" lengthAdjust="spacingAndGlyphs">LumNS</text>
<rect x="620.90" y="111.80" width="3.6" height="12.2" fill="#0000FF"/>
<text x="627.00" y="120.50" font-size="9.8" text-anchor="start" fill="#222" stroke="#222" stroke-width="0.12" textLength="23.40" lengthAdjust="spacingAndGlyphs">LumU</text>
<rect x="548.40" y="124.00" width="3.6" height="12.2" fill="#FFFF00"/>
<text x="554.80" y="133.10" font-size="9.8" text-anchor="start" fill="#222" stroke="#222" stroke-width="0.12" textLength="48.70" lengthAdjust="spacingAndGlyphs">Stroma-rich</text>
<rect x="607.60" y="124.00" width="3.6" height="12.2" fill="#FF0000"/>
<text x="613.60" y="133.10" font-size="9.8" text-anchor="start" fill="#222" stroke="#222" stroke-width="0.12" textLength="24.20" lengthAdjust="spacingAndGlyphs">Ba/Sq</text>
<rect x="641.50" y="124.00" width="3.6" height="12.2" fill="#9933FF"/>
<text x="647.50" y="133.10" font-size="9.8" text-anchor="start" fill="#222" stroke="#222" stroke-width="0.12" textLength="29.00" lengthAdjust="spacingAndGlyphs">NE-like</text>
<defs>
<filter id="tis" x="-10%" y="-10%" width="120%" height="120%" color-interpolation-filters="sRGB">
<feTurbulence type="fractalNoise" baseFrequency="0.32" numOctaves="2" seed="4" result="n"/>
<feDisplacementMap in="SourceGraphic" in2="n" scale="3.2" xChannelSelector="R" yChannelSelector="G" result="d"/>
<feTurbulence type="fractalNoise" baseFrequency="0.6" numOctaves="2" seed="9" result="n2"/>
<feColorMatrix in="n2" type="matrix" values="0 0 0 0 1  0 0 0 0 0.95  0 0 0 0 0.75  0 0 0 1.6 -0.95" result="w"/>
<feComposite in="w" in2="d" operator="in" result="ws"/>
<feColorMatrix in="n2" type="matrix" values="0 0 0 0 0.6  0 0 0 0 0.35  0 0 0 0 0.1  0 1.5 0 0 -0.88" result="k"/>
<feComposite in="k" in2="d" operator="in" result="ks"/>
<feTurbulence type="fractalNoise" baseFrequency="0.14" numOctaves="2" seed="17" result="n4"/>
<feColorMatrix in="n4" type="matrix" values="0 0 0 0 0.5  0 0 0 0 0.4  0 0 0 0 0.2  1.1 0 0 0 -0.47" result="mt"/>
<feComposite in="mt" in2="d" operator="in" result="ms"/>
<feColorMatrix in="n4" type="matrix" values="0 0 0 0 1  0 0 0 0 0.96  0 0 0 0 0.8  0 0.8 0 0 -0.4" result="ml"/>
<feComposite in="ml" in2="d" operator="in" result="ls"/>
<feMerge><feMergeNode in="d"/><feMergeNode in="ms"/><feMergeNode in="ls"/><feMergeNode in="ws"/><feMergeNode in="ks"/></feMerge>
</filter>
<filter id="tisB" x="-10%" y="-10%" width="120%" height="120%" color-interpolation-filters="sRGB">
<feTurbulence type="fractalNoise" baseFrequency="0.32" numOctaves="2" seed="4" result="n"/>
<feDisplacementMap in="SourceGraphic" in2="n" scale="3.4" xChannelSelector="R" yChannelSelector="G" result="d"/>
<feTurbulence type="fractalNoise" baseFrequency="0.65" numOctaves="2" seed="9" result="n2"/>
<feColorMatrix in="n2" type="matrix" values="0 0 0 0 1  0 0 0 0 1  0 0 0 0 1  0 0 0 4 -2.3" result="w"/>
<feComposite in="w" in2="d" operator="in" result="ws"/>
<feColorMatrix in="n2" type="matrix" values="0 0 0 0 0.3  0 0 0 0 0.4  0 0 0 0 0.65  0 2.5 0 0 -1.35" result="k"/>
<feComposite in="k" in2="d" operator="in" result="ks"/>
<feColorMatrix in="n2" type="matrix" values="0 0 0 0 0.85  0 0 0 0 0.72  0 0 0 0 0.35  6 0 0 0 -3.9" result="og"/>
<feComposite in="og" in2="d" operator="in" result="os"/>
<feMerge><feMergeNode in="d"/><feMergeNode in="ks"/><feMergeNode in="os"/><feMergeNode in="ws"/></feMerge>
</filter>
<filter id="tisH" x="-10%" y="-10%" width="120%" height="120%" color-interpolation-filters="sRGB">
<feTurbulence type="fractalNoise" baseFrequency="0.3" numOctaves="2" seed="14" result="n"/>
<feDisplacementMap in="SourceGraphic" in2="n" scale="4.5" xChannelSelector="R" yChannelSelector="G" result="d"/>
<feTurbulence type="fractalNoise" baseFrequency="0.75" numOctaves="2" seed="21" result="n2"/>
<feColorMatrix in="n2" type="matrix" values="0 0 0 0 1  0 0 0 0 1  0 0 0 0 1  0 0 0 6 -3.8" result="w"/>
<feComposite in="w" in2="d" operator="in" result="ws"/>
<feColorMatrix in="n2" type="matrix" values="0 0 0 0 0.82  0 0 0 0 0.68  0 0 0 0 0.35  6 0 0 0 -3.6" result="og"/>
<feComposite in="og" in2="d" operator="in" result="os"/>
<feColorMatrix in="n2" type="matrix" values="0 0 0 0 0.25  0 0 0 0 0.3  0 0 0 0 0.5  0 5 0 0 -2.9" result="dk"/>
<feComposite in="dk" in2="d" operator="in" result="ds"/>
<feTurbulence type="fractalNoise" baseFrequency="0.16" numOctaves="2" seed="5" result="n3"/>
<feColorMatrix in="n3" type="matrix" values="0 0 0 0 1  0 0 0 0 1  0 0 0 0 1  0 0 0 7 -4.7" result="w3"/>
<feComposite in="w3" in2="d" operator="in" result="ws3"/>
<feMerge><feMergeNode in="d"/><feMergeNode in="ds"/><feMergeNode in="os"/><feMergeNode in="ws"/><feMergeNode in="ws3"/></feMerge>
</filter>
<filter id="spk" x="-10%" y="-10%" width="120%" height="120%" color-interpolation-filters="sRGB">
<feGaussianBlur in="SourceGraphic" stdDeviation="1.0" result="b"/>
<feTurbulence type="fractalNoise" baseFrequency="0.5" numOctaves="2" seed="33" result="n"/>
<feColorMatrix in="n" type="matrix" values="0 0 0 0 0  0 0 0 0 0  0 0 0 0 0  6 0 0 0 -2.2" result="m"/>
<feComposite in="b" in2="m" operator="in"/>
</filter>
<filter id="spk2" x="-10%" y="-10%" width="120%" height="120%" color-interpolation-filters="sRGB">
<feGaussianBlur in="SourceGraphic" stdDeviation="1.5" result="b"/>
<feTurbulence type="fractalNoise" baseFrequency="0.45" numOctaves="2" seed="52" result="n"/>
<feColorMatrix in="n" type="matrix" values="0 0 0 0 0  0 0 0 0 0  0 0 0 0 0  0 6 0 0 -2.3" result="m"/>
<feComposite in="b" in2="m" operator="in"/>
</filter>
<filter id="spk3" x="-10%" y="-10%" width="120%" height="120%" color-interpolation-filters="sRGB">
<feGaussianBlur in="SourceGraphic" stdDeviation="1.5" result="b"/>
<feTurbulence type="fractalNoise" baseFrequency="0.5" numOctaves="2" seed="71" result="n"/>
<feColorMatrix in="n" type="matrix" values="0 0 0 0 0  0 0 0 0 0  0 0 0 0 0  0 0 7 0 -3.7" result="m"/>
<feComposite in="b" in2="m" operator="in"/>
</filter>
<filter id="spk4" x="-10%" y="-10%" width="120%" height="120%" color-interpolation-filters="sRGB">
<feTurbulence type="fractalNoise" baseFrequency="0.4" numOctaves="2" seed="88" result="n"/>
<feColorMatrix in="n" type="matrix" values="0 0 0 0 0  0 0 0 0 0  0 0 0 0 0  7 0 0 0 -3.35" result="m"/>
<feComposite in="SourceGraphic" in2="m" operator="in"/>
</filter>
<filter id="bl0"><feGaussianBlur stdDeviation="0.5"/></filter>
<filter id="bl1"><feGaussianBlur stdDeviation="1.3"/></filter>
<filter id="bl2"><feGaussianBlur stdDeviation="2.4"/></filter>
<linearGradient id="db" x1="0" x2="1" y1="0" y2="0"><stop offset="0" stop-color="#009FE6"/><stop offset="1" stop-color="#2DB0EA"/></linearGradient>
</defs>
<clipPath id="cp1"><rect x="10.10" y="184.20" width="82.20" height="82.30"/></clipPath>
<rect x="10.10" y="184.20" width="82.20" height="82.30" fill="#FBFBFB"/>
<g clip-path="url(#cp1)">
<g filter="url(#tis)">
<path d="M20.6 201.3C21.9 199.5 22.7 197.3 25.4 195.9C28.1 194.5 32.5 193.7 37.0 193.0C41.5 192.3 47.7 191.2 52.5 191.7C57.3 192.2 62.3 194.1 66.0 195.9C69.7 197.8 72.0 200.2 74.7 202.9C77.5 205.6 80.4 209.3 82.5 212.0C84.6 214.6 85.8 216.5 87.3 218.8C88.8 221.0 90.7 223.3 91.6 225.5C92.5 227.8 92.8 229.9 92.7 232.3C92.6 234.7 91.5 236.8 90.8 240.0C90.0 243.2 90.2 248.2 88.3 251.4C86.3 254.7 82.6 257.1 79.2 259.4C75.8 261.6 70.4 264.3 68.0 265.0C65.5 265.7 65.9 265.7 64.5 263.6C63.0 261.6 60.9 256.3 59.3 252.6C57.6 248.9 55.9 244.0 54.6 241.4C53.3 238.8 52.4 238.4 51.5 237.1C50.7 235.9 50.6 235.0 49.6 233.8C48.6 232.7 47.2 231.4 45.7 230.4C44.3 229.3 42.2 227.7 40.9 227.6C39.6 227.6 38.6 228.4 38.0 229.8C37.3 231.2 37.2 233.9 37.0 236.2C36.9 238.4 37.5 241.4 37.0 243.1C36.6 244.9 35.9 245.8 34.3 246.6C32.7 247.4 30.0 247.8 27.3 247.8C24.7 247.8 21.0 247.7 18.6 246.6C16.3 245.5 14.5 243.6 13.4 241.2C12.3 238.8 12.0 235.4 11.9 232.3C11.8 229.2 12.4 225.5 12.8 222.6C13.3 219.7 14.0 217.5 14.8 214.9C15.6 212.3 16.7 209.4 17.7 207.1C18.6 204.9 19.3 203.2 20.6 201.3Z" fill="#DF9E2A" stroke="#EBCB7C" stroke-width="1.4"/>
<path d="M56.4 207.1C59.3 206.2 61.8 203.9 64.1 205.2C66.3 206.5 68.4 211.0 69.9 214.9C71.3 218.8 72.8 223.9 72.8 228.4C72.8 232.9 71.3 238.4 69.9 242.0C68.4 245.5 66.0 248.7 64.1 249.7C62.2 250.7 59.9 249.7 58.3 247.8C56.7 245.8 56.4 241.6 54.4 238.1C52.5 234.5 48.6 230.0 46.7 226.5C44.8 222.9 42.8 219.4 42.8 216.8C42.8 214.2 44.4 212.6 46.7 211.0C48.9 209.4 53.5 208.1 56.4 207.1Z" fill="#5F6FCC" filter="url(#spk)"/>
<path d="M57.3 212.9C58.9 210.0 63.1 210.7 65.1 212.9C67.0 215.2 68.8 221.7 68.9 226.5C69.1 231.3 67.5 239.1 66.0 242.0C64.6 244.9 62.0 245.8 60.2 243.9C58.5 242.0 55.9 235.5 55.4 230.4C54.9 225.2 55.7 215.8 57.3 212.9Z" fill="#5868CC" opacity="0.6" filter="url(#bl1)"/>
</g>
</g>
<rect x="10.10" y="184.20" width="82.20" height="82.30" fill="none" stroke="#222" stroke-width="1.2"/>
<circle cx="18.40" cy="191.30" r="5.6" fill="#fff" stroke="#111" stroke-width="0.9"/>
<text x="18.40" y="194.61" font-size="9.2" text-anchor="middle" fill="#111" stroke="#111" stroke-width="0.1">1</text>
<text x="13.10" y="241.00" font-size="8.8" text-anchor="start" font-weight="bold" stroke="#000" stroke-width="0.15" textLength="62.70" lengthAdjust="spacingAndGlyphs">TCGA-FD-A5BZ</text>
<text x="13.10" y="252.80" font-size="8.8" text-anchor="start" fill="#1a1a1a" stroke="#1a1a1a" stroke-width="0.15" textLength="36.20" lengthAdjust="spacingAndGlyphs">CrM-high</text>
<text x="13.10" y="264.20" font-size="8.8" text-anchor="start" fill="#1a1a1a" stroke="#1a1a1a" stroke-width="0.15" textLength="45.50" lengthAdjust="spacingAndGlyphs">Stroma-rich</text>
<rect x="98.40" y="186.10" width="33.40" height="10.00" fill="#FFC000"/>
<text x="115.10" y="195.06" font-size="8.6" text-anchor="middle" stroke="#000" stroke-width="0.22" textLength="12.40" lengthAdjust="spacingAndGlyphs">ADI</text>
<rect x="98.40" y="196.05" width="33.40" height="10.00" fill="#0000FF"/>
<text x="115.10" y="205.00" font-size="8.6" text-anchor="middle" fill="#fff" stroke="#fff" stroke-width="0.22" textLength="15.90" lengthAdjust="spacingAndGlyphs">DEB</text>
<rect x="98.40" y="206.00" width="33.40" height="10.00" fill="#FF0000"/>
<text x="115.10" y="214.96" font-size="8.6" text-anchor="middle" fill="#3a0000" stroke="#3a0000" stroke-width="0.22" textLength="16.60" lengthAdjust="spacingAndGlyphs">LYM</text>
<rect x="98.40" y="215.95" width="33.40" height="10.00" fill="#D9D9D9"/>
<text x="115.10" y="224.91" font-size="8.6" text-anchor="middle" fill="#111" stroke="#111" stroke-width="0.22" textLength="18.30" lengthAdjust="spacingAndGlyphs">MUC</text>
<rect x="98.40" y="225.90" width="33.40" height="10.00" fill="#FFC000"/>
<text x="115.10" y="234.85" font-size="8.6" text-anchor="middle" stroke="#000" stroke-width="0.22" textLength="18.20" lengthAdjust="spacingAndGlyphs">MUS</text>
<rect x="98.40" y="235.85" width="33.40" height="10.00" fill="#0000FF"/>
<text x="115.10" y="244.81" font-size="8.6" text-anchor="middle" fill="#fff" stroke="#fff" stroke-width="0.22" textLength="27.30" lengthAdjust="spacingAndGlyphs">NORM</text>
<rect x="98.40" y="245.80" width="33.40" height="10.00" fill="#FFC000"/>
<text x="115.10" y="254.75" font-size="8.6" text-anchor="middle" stroke="#000" stroke-width="0.22" textLength="15.20" lengthAdjust="spacingAndGlyphs">STR</text>
<rect x="98.40" y="255.75" width="33.40" height="10.00" fill="#0000FF"/>
<text x="115.10" y="264.70" font-size="8.6" text-anchor="middle" fill="#fff" stroke="#fff" stroke-width="0.22" textLength="19.20" lengthAdjust="spacingAndGlyphs">TUM</text>
<rect x="134.80" y="185.70" width="30.70" height="80.60" fill="#fff"/>
<rect x="136.40" y="187.40" width="0.69" height="7.18" fill="url(#db)"/>
<text x="137.20" y="194.27" font-size="9.0" text-anchor="start" fill="#0c1220" stroke="#0c1220" stroke-width="0.2" textLength="21.80" lengthAdjust="spacingAndGlyphs">0.039</text>
<rect x="136.40" y="197.47" width="1.06" height="7.18" fill="url(#db)"/>
<text x="137.20" y="204.35" font-size="9.0" text-anchor="start" fill="#0c1220" stroke="#0c1220" stroke-width="0.2" textLength="21.80" lengthAdjust="spacingAndGlyphs">0.052</text>
<rect x="136.40" y="207.55" width="0.25" height="7.18" fill="url(#db)"/>
<text x="137.20" y="214.43" font-size="9.0" text-anchor="start" fill="#0c1220" stroke="#0c1220" stroke-width="0.2" textLength="21.80" lengthAdjust="spacingAndGlyphs">0.007</text>
<rect x="136.40" y="217.62" width="0.25" height="7.18" fill="url(#db)"/>
<text x="137.20" y="224.50" font-size="9.0" text-anchor="start" fill="#0c1220" stroke="#0c1220" stroke-width="0.2" textLength="21.80" lengthAdjust="spacingAndGlyphs">0.020</text>
<rect x="136.40" y="227.70" width="15.22" height="7.18" fill="url(#db)"/>
<text x="137.20" y="234.57" font-size="9.0" text-anchor="start" fill="#0c1220" stroke="#0c1220" stroke-width="0.2" textLength="21.80" lengthAdjust="spacingAndGlyphs">0.558</text>
<rect x="136.40" y="237.77" width="0.25" height="7.18" fill="url(#db)"/>
<text x="137.20" y="244.65" font-size="9.0" text-anchor="start" fill="#0c1220" stroke="#0c1220" stroke-width="0.2" textLength="21.80" lengthAdjust="spacingAndGlyphs">0.004</text>
<rect x="136.40" y="247.85" width="4.58" height="7.18" fill="url(#db)"/>
<text x="137.20" y="254.73" font-size="9.0" text-anchor="start" fill="#0c1220" stroke="#0c1220" stroke-width="0.2" textLength="21.80" lengthAdjust="spacingAndGlyphs">0.178</text>
<rect x="136.40" y="257.93" width="2.79" height="7.18" fill="url(#db)"/>
<text x="137.20" y="264.80" font-size="9.0" text-anchor="start" fill="#0c1220" stroke="#0c1220" stroke-width="0.2" textLength="21.80" lengthAdjust="spacingAndGlyphs">0.114</text>
<path d="M134.80 185.70H165.50M134.80 195.77H165.50M134.80 205.85H165.50M134.80 215.93H165.50M134.80 226.00H165.50M134.80 236.07H165.50M134.80 246.15H165.50M134.80 256.23H165.50M134.80 266.30H165.50M134.80 185.70V266.30M165.50 185.70V266.30" fill="none" stroke="#6a6a6a" stroke-width="1"/>
<clipPath id="cp2"><rect x="10.10" y="277.70" width="82.20" height="82.30"/></clipPath>
<rect x="10.10" y="277.70" width="82.20" height="82.30" fill="#FBFBFB"/>
<g clip-path="url(#cp2)">
<g filter="url(#tis)">
<path d="M14.6 310.6C15.2 307.2 16.5 305.2 17.4 303.2C18.3 301.1 18.5 299.7 20.2 298.5C21.9 297.3 25.7 296.5 27.7 295.7C29.7 294.9 31.3 295.2 32.4 293.8C33.5 292.4 33.5 289.0 34.2 287.3C35.0 285.6 35.8 284.0 37.0 283.5C38.3 283.1 41.1 283.4 41.7 284.5C42.3 285.6 41.0 288.4 40.8 290.1C40.6 291.8 39.5 294.1 40.4 294.8C41.3 295.4 44.1 294.4 46.4 293.8C48.6 293.2 51.1 292.1 53.9 291.0C56.7 289.9 60.4 288.4 63.2 287.3C66.0 286.2 68.2 285.4 70.7 284.5C73.2 283.5 76.0 282.5 78.2 281.7C80.3 280.9 81.7 280.0 83.8 279.8C85.8 279.6 89.1 278.7 90.3 280.7C91.6 282.8 91.2 287.9 91.2 292.0C91.3 296.0 91.1 301.5 90.9 305.0C90.6 308.6 90.9 311.6 89.8 313.5C88.6 315.3 85.5 315.2 83.8 316.3C82.0 317.3 80.3 318.4 79.1 320.0C77.9 321.6 76.6 323.4 76.3 325.6C76.0 327.8 76.4 330.4 77.2 333.1C78.0 335.7 80.2 338.7 81.0 341.5C81.7 344.3 82.4 347.4 81.9 349.9C81.4 352.4 79.7 354.6 78.2 356.4C76.6 358.2 75.4 359.6 72.6 360.7C69.8 361.9 67.9 362.9 61.3 363.4C54.8 363.8 40.2 364.6 33.3 363.4C26.4 362.1 23.2 358.1 20.2 355.9C17.3 353.6 16.5 352.8 15.5 349.9C14.6 347.0 14.9 343.0 14.6 338.7C14.3 334.3 13.7 328.4 13.7 323.7C13.7 319.1 14.0 314.1 14.6 310.6Z" fill="#E2C45A"/>
<path d="M65.1 288.2C66.3 284.2 74.0 283.7 78.2 282.6C82.3 281.5 87.7 277.9 89.8 281.7C91.8 285.4 90.6 299.9 90.5 305.0C90.4 310.2 90.7 310.6 89.0 312.5C87.3 314.4 83.1 317.2 80.0 316.3C77.0 315.3 73.2 311.6 70.7 306.9C68.2 302.2 63.8 292.3 65.1 288.2Z" fill="#DC9C3C" opacity="0.75" filter="url(#bl1)"/>
<path d="M37.0 320.4C44.5 319.0 76.6 318.1 83.8 319.1C90.9 320.0 87.5 324.6 80.0 326.0C72.6 327.3 46.1 328.0 38.9 327.1C31.7 326.2 29.6 321.7 37.0 320.4Z" fill="#F2E4B0" opacity="0.55" filter="url(#bl1)"/>
<path d="M16.5 338.7C21.2 337.0 41.7 338.4 46.4 340.6C51.1 342.7 49.2 350.1 44.5 351.8C39.8 353.5 23.0 353.0 18.3 350.8C13.7 348.7 11.8 340.4 16.5 338.7Z" fill="#F0E2A8" opacity="0.5" filter="url(#bl2)"/>
<path d="M41.7 296.6C44.0 293.8 55.3 292.7 57.6 295.7C59.9 298.7 58.1 311.6 55.7 314.4C53.4 317.2 45.9 315.5 43.6 312.5C41.2 309.6 39.4 299.4 41.7 296.6Z" fill="#9098A0" opacity="0.35" filter="url(#bl2)"/>
<path d="M49.2 292.0C50.5 291.5 55.0 293.8 57.6 293.4C60.2 293.1 62.7 291.2 65.1 290.1C67.4 289.0 70.2 286.7 71.6 286.7C73.0 286.7 74.2 288.7 73.5 290.1C72.8 291.4 69.9 293.4 67.3 294.8C64.7 296.1 60.9 297.7 58.0 297.9C55.0 298.2 51.2 297.1 49.7 296.1C48.3 295.1 47.9 292.4 49.2 292.0Z" fill="#4E78B0" filter="url(#spk)"/>
<path d="M50.5 293.1C51.7 293.0 55.5 295.1 58.5 294.6C61.6 294.0 66.6 290.3 68.8 289.7C71.0 289.2 73.2 290.0 71.6 291.2C70.1 292.4 62.9 296.1 59.5 296.8C56.0 297.5 52.6 295.9 51.1 295.3C49.6 294.7 49.3 293.2 50.5 293.1Z" fill="#5078B0" opacity="0.55" filter="url(#bl1)"/>
</g>
<path d="M51.6 307.8C52.1 306.5 54.0 305.0 55.7 304.5C57.5 303.9 60.7 303.8 62.3 304.5C63.9 305.1 65.2 307.0 65.5 308.4C65.7 309.8 64.8 311.9 63.6 312.9C62.3 313.9 59.7 314.4 58.0 314.4C56.2 314.3 54.2 313.6 53.1 312.5C52.1 311.4 51.2 309.2 51.6 307.8Z" fill="#fff"/>
</g>
<rect x="10.10" y="277.70" width="82.20" height="82.30" fill="none" stroke="#222" stroke-width="1.2"/>
<circle cx="17.70" cy="286.40" r="5.6" fill="#fff" stroke="#111" stroke-width="0.9"/>
<text x="17.70" y="289.71" font-size="9.2" text-anchor="middle" fill="#111" stroke="#111" stroke-width="0.1">2</text>
<text x="15.20" y="332.40" font-size="8.8" text-anchor="start" font-weight="bold" stroke="#000" stroke-width="0.15" textLength="63.10" lengthAdjust="spacingAndGlyphs">TCGA-DK-A1AF</text>
<text x="15.20" y="344.40" font-size="8.8" text-anchor="start" fill="#1a1a1a" stroke="#1a1a1a" stroke-width="0.15" textLength="36.20" lengthAdjust="spacingAndGlyphs">CrM-high</text>
<text x="15.20" y="355.20" font-size="8.8" text-anchor="start" fill="#1a1a1a" stroke="#1a1a1a" stroke-width="0.15" textLength="45.50" lengthAdjust="spacingAndGlyphs">Stroma-rich</text>
<rect x="96.90" y="277.90" width="33.90" height="10.28" fill="#FFC000"/>
<text x="113.85" y="287.10" font-size="8.6" text-anchor="middle" stroke="#000" stroke-width="0.22" textLength="12.40" lengthAdjust="spacingAndGlyphs">ADI</text>
<rect x="96.90" y="288.12" width="33.90" height="10.28" fill="#0000FF"/>
<text x="113.85" y="297.33" font-size="8.6" text-anchor="middle" fill="#fff" stroke="#fff" stroke-width="0.22" textLength="15.90" lengthAdjust="spacingAndGlyphs">DEB</text>
<rect x="96.90" y="298.35" width="33.90" height="10.28" fill="#FF0000"/>
<text x="113.85" y="307.55" font-size="8.6" text-anchor="middle" fill="#3a0000" stroke="#3a0000" stroke-width="0.22" textLength="16.60" lengthAdjust="spacingAndGlyphs">LYM</text>
<rect x="96.90" y="308.57" width="33.90" height="10.28" fill="#D9D9D9"/>
<text x="113.85" y="317.78" font-size="8.6" text-anchor="middle" fill="#111" stroke="#111" stroke-width="0.22" textLength="18.30" lengthAdjust="spacingAndGlyphs">MUC</text>
<rect x="96.90" y="318.80" width="33.90" height="10.28" fill="#FFC000"/>
<text x="113.85" y="328.00" font-size="8.6" text-anchor="middle" stroke="#000" stroke-width="0.22" textLength="18.20" lengthAdjust="spacingAndGlyphs">MUS</text>
<rect x="96.90" y="329.02" width="33.90" height="10.28" fill="#0000FF"/>
<text x="113.85" y="338.23" font-size="8.6" text-anchor="middle" fill="#fff" stroke="#fff" stroke-width="0.22" textLength="27.30" lengthAdjust="spacingAndGlyphs">NORM</text>
<rect x="96.90" y="339.25" width="33.90" height="10.28" fill="#FFC000"/>
<text x="113.85" y="348.45" font-size="8.6" text-anchor="middle" stroke="#000" stroke-width="0.22" textLength="15.20" lengthAdjust="spacingAndGlyphs">STR</text>
<rect x="96.90" y="349.48" width="33.90" height="10.28" fill="#0000FF"/>
<text x="113.85" y="358.68" font-size="8.6" text-anchor="middle" fill="#fff" stroke="#fff" stroke-width="0.22" textLength="19.20" lengthAdjust="spacingAndGlyphs">TUM</text>
<rect x="133.90" y="277.50" width="31.60" height="82.80" fill="#fff"/>
<rect x="135.50" y="279.20" width="2.71" height="7.45" fill="url(#db)"/>
<text x="136.30" y="286.35" font-size="9.0" text-anchor="start" fill="#0c1220" stroke="#0c1220" stroke-width="0.2" textLength="21.80" lengthAdjust="spacingAndGlyphs">0.111</text>
<rect x="135.50" y="289.55" width="1.84" height="7.45" fill="url(#db)"/>
<text x="136.30" y="296.70" font-size="9.0" text-anchor="start" fill="#0c1220" stroke="#0c1220" stroke-width="0.2" textLength="21.80" lengthAdjust="spacingAndGlyphs">0.080</text>
<rect x="135.50" y="299.90" width="0.25" height="7.45" fill="url(#db)"/>
<text x="136.30" y="307.05" font-size="9.0" text-anchor="start" fill="#0c1220" stroke="#0c1220" stroke-width="0.2" textLength="21.80" lengthAdjust="spacingAndGlyphs">0.002</text>
<rect x="135.50" y="310.25" width="0.25" height="7.45" fill="url(#db)"/>
<text x="136.30" y="317.40" font-size="9.0" text-anchor="start" fill="#0c1220" stroke="#0c1220" stroke-width="0.2" textLength="21.80" lengthAdjust="spacingAndGlyphs">0.015</text>
<rect x="135.50" y="320.60" width="14.02" height="7.45" fill="url(#db)"/>
<text x="136.30" y="327.75" font-size="9.0" text-anchor="start" fill="#0c1220" stroke="#0c1220" stroke-width="0.2" textLength="21.80" lengthAdjust="spacingAndGlyphs">0.515</text>
<rect x="135.50" y="330.95" width="0.25" height="7.45" fill="url(#db)"/>
<text x="136.30" y="338.10" font-size="9.0" text-anchor="start" fill="#0c1220" stroke="#0c1220" stroke-width="0.2" textLength="21.80" lengthAdjust="spacingAndGlyphs">0.006</text>
<rect x="135.50" y="341.30" width="5.06" height="7.45" fill="url(#db)"/>
<text x="136.30" y="348.45" font-size="9.0" text-anchor="start" fill="#0c1220" stroke="#0c1220" stroke-width="0.2" textLength="21.80" lengthAdjust="spacingAndGlyphs">0.195</text>
<rect x="135.50" y="351.65" width="1.64" height="7.45" fill="url(#db)"/>
<text x="136.30" y="358.80" font-size="9.0" text-anchor="start" fill="#0c1220" stroke="#0c1220" stroke-width="0.2" textLength="21.80" lengthAdjust="spacingAndGlyphs">0.073</text>
<path d="M133.90 277.50H165.50M133.90 287.85H165.50M133.90 298.20H165.50M133.90 308.55H165.50M133.90 318.90H165.50M133.90 329.25H165.50M133.90 339.60H165.50M133.90 349.95H165.50M133.90 360.30H165.50M133.90 277.50V360.30M165.50 277.50V360.30" fill="none" stroke="#6a6a6a" stroke-width="1"/>
<clipPath id="cp3"><rect x="9.60" y="370.30" width="83.75" height="83.40"/></clipPath>
<rect x="9.60" y="370.30" width="83.75" height="83.40" fill="#FBFBFB"/>
<g clip-path="url(#cp3)">
<g filter="url(#tis)">
<path d="M18.3 377.5C20.1 374.7 23.6 375.8 27.7 375.6C31.7 375.5 38.0 376.5 42.6 376.5C47.3 376.5 51.1 375.9 55.7 375.6C60.4 375.3 66.0 374.5 70.7 374.7C75.4 374.8 81.0 375.5 83.8 376.5C86.6 377.6 86.7 378.6 87.5 381.2C88.3 383.9 88.1 388.1 88.4 392.4C88.8 396.8 89.4 403.0 89.4 407.4C89.4 411.7 89.1 415.5 88.4 418.6C87.8 421.7 86.0 423.6 85.6 426.1C85.3 428.6 86.9 430.8 86.6 433.6C86.3 436.4 85.2 440.4 83.8 442.9C82.4 445.4 80.7 447.3 78.2 448.5C75.7 449.8 71.9 450.2 68.8 450.4C65.7 450.5 62.0 450.4 59.5 449.4C57.0 448.5 55.6 446.5 53.9 444.8C52.1 443.1 51.1 440.7 49.2 439.2C47.3 437.6 45.6 436.4 42.6 435.4C39.7 434.5 34.9 434.5 31.4 433.6C28.0 432.6 24.4 431.7 22.1 429.8C19.7 427.9 18.3 426.1 17.4 422.3C16.5 418.6 16.5 412.4 16.5 407.4C16.5 402.4 17.1 397.4 17.4 392.4C17.7 387.4 16.6 380.3 18.3 377.5Z" fill="#DFA02C"/>
<path d="M57.6 376.5C61.7 374.7 78.8 374.8 83.8 377.5C88.8 380.1 89.7 389.6 87.5 392.4C85.3 395.2 75.4 394.9 70.7 394.3C66.0 393.7 61.7 391.7 59.5 388.7C57.3 385.7 53.6 378.4 57.6 376.5Z" fill="#F0C458" opacity="0.6" filter="url(#bl2)"/>
<path d="M18.3 379.3C23.3 375.4 40.5 375.7 46.4 377.9C52.3 380.0 52.8 386.6 53.9 392.4C55.0 398.3 54.2 406.5 52.9 413.0C51.7 419.5 50.3 428.4 46.4 431.7C42.5 435.0 34.1 433.9 29.6 432.6C25.0 431.4 21.4 429.3 19.3 424.2C17.2 419.1 17.0 409.3 16.9 401.8C16.7 394.3 13.4 383.3 18.3 379.3Z" fill="#8070A8" opacity="0.5" filter="url(#bl2)"/>
<path d="M18.3 379.3C23.3 375.4 40.5 375.7 46.4 377.9C52.3 380.0 52.8 386.6 53.9 392.4C55.0 398.3 54.2 406.5 52.9 413.0C51.7 419.5 50.3 428.4 46.4 431.7C42.5 435.0 34.1 433.9 29.6 432.6C25.0 431.4 21.4 429.3 19.3 424.2C17.2 419.1 17.0 409.3 16.9 401.8C16.7 394.3 13.4 383.3 18.3 379.3Z" fill="#6878BC" opacity="0.85" filter="url(#spk4)"/>
<ellipse cx="27.7" cy="398.0" rx="6.6" ry="9.7" fill="#5A80D8" opacity="0.75" filter="url(#bl1)"/>
<ellipse cx="46.4" cy="396.2" rx="4.6" ry="7.7" fill="#6480D0" opacity="0.55" filter="url(#bl1)"/>
<path d="M46.4 422.3C49.7 419.5 62.6 420.2 68.8 420.5C75.0 420.8 81.4 420.5 83.8 424.2C86.1 427.9 85.3 438.6 82.8 442.9C80.3 447.2 73.3 449.4 68.8 450.0C64.3 450.6 59.0 448.8 55.7 446.6C52.5 444.5 50.7 441.3 49.2 437.3C47.6 433.2 43.1 425.1 46.4 422.3Z" fill="#9890A0" opacity="0.3" filter="url(#bl2)"/>
<path d="M46.4 422.3C49.7 419.5 62.6 420.2 68.8 420.5C75.0 420.8 81.4 420.5 83.8 424.2C86.1 427.9 85.3 438.6 82.8 442.9C80.3 447.2 73.3 449.4 68.8 450.0C64.3 450.6 59.0 448.8 55.7 446.6C52.5 444.5 50.7 441.3 49.2 437.3C47.6 433.2 43.1 425.1 46.4 422.3Z" fill="#7080B8" opacity="0.8" filter="url(#spk3)"/>
</g>
</g>
<rect x="9.60" y="370.30" width="83.75" height="83.40" fill="none" stroke="#222" stroke-width="1.2"/>
<circle cx="17.90" cy="377.40" r="5.6" fill="#fff" stroke="#111" stroke-width="0.9"/>
<text x="17.90" y="380.71" font-size="9.2" text-anchor="middle" fill="#111" stroke="#111" stroke-width="0.1">3</text>
<text x="14.90" y="425.80" font-size="8.8" text-anchor="start" font-weight="bold" stroke="#000" stroke-width="0.15" textLength="63.30" lengthAdjust="spacingAndGlyphs">TCGA-FD-A6TH</text>
<text x="14.90" y="437.50" font-size="8.8" text-anchor="start" fill="#1a1a1a" stroke="#1a1a1a" stroke-width="0.15" textLength="36.20" lengthAdjust="spacingAndGlyphs">CrM-high</text>
<text x="14.90" y="449.50" font-size="8.8" text-anchor="start" fill="#1a1a1a" stroke="#1a1a1a" stroke-width="0.15" textLength="21.60" lengthAdjust="spacingAndGlyphs">Ba/Sq</text>
<rect x="98.40" y="371.20" width="33.80" height="10.21" fill="#FFC000"/>
<text x="115.30" y="380.35" font-size="8.6" text-anchor="middle" stroke="#000" stroke-width="0.22" textLength="12.40" lengthAdjust="spacingAndGlyphs">ADI</text>
<rect x="98.40" y="381.36" width="33.80" height="10.21" fill="#0000FF"/>
<text x="115.30" y="390.51" font-size="8.6" text-anchor="middle" fill="#fff" stroke="#fff" stroke-width="0.22" textLength="15.90" lengthAdjust="spacingAndGlyphs">DEB</text>
<rect x="98.40" y="391.52" width="33.80" height="10.21" fill="#FF0000"/>
<text x="115.30" y="400.67" font-size="8.6" text-anchor="middle" fill="#3a0000" stroke="#3a0000" stroke-width="0.22" textLength="16.60" lengthAdjust="spacingAndGlyphs">LYM</text>
<rect x="98.40" y="401.69" width="33.80" height="10.21" fill="#D9D9D9"/>
<text x="115.30" y="410.83" font-size="8.6" text-anchor="middle" fill="#111" stroke="#111" stroke-width="0.22" textLength="18.30" lengthAdjust="spacingAndGlyphs">MUC</text>
<rect x="98.40" y="411.85" width="33.80" height="10.21" fill="#FFC000"/>
<text x="115.30" y="421.00" font-size="8.6" text-anchor="middle" stroke="#000" stroke-width="0.22" textLength="18.20" lengthAdjust="spacingAndGlyphs">MUS</text>
<rect x="98.40" y="422.01" width="33.80" height="10.21" fill="#0000FF"/>
<text x="115.30" y="431.16" font-size="8.6" text-anchor="middle" fill="#fff" stroke="#fff" stroke-width="0.22" textLength="27.30" lengthAdjust="spacingAndGlyphs">NORM</text>
<rect x="98.40" y="432.18" width="33.80" height="10.21" fill="#FFC000"/>
<text x="115.30" y="441.32" font-size="8.6" text-anchor="middle" stroke="#000" stroke-width="0.22" textLength="15.20" lengthAdjust="spacingAndGlyphs">STR</text>
<rect x="98.40" y="442.34" width="33.80" height="10.21" fill="#0000FF"/>
<text x="115.30" y="451.48" font-size="8.6" text-anchor="middle" fill="#fff" stroke="#fff" stroke-width="0.22" textLength="19.20" lengthAdjust="spacingAndGlyphs">TUM</text>
<rect x="135.40" y="370.80" width="30.60" height="82.30" fill="#fff"/>
<rect x="137.00" y="372.50" width="0.86" height="7.39" fill="url(#db)"/>
<text x="137.80" y="379.59" font-size="9.0" text-anchor="start" fill="#0c1220" stroke="#0c1220" stroke-width="0.2" textLength="21.80" lengthAdjust="spacingAndGlyphs">0.045</text>
<rect x="137.00" y="382.79" width="1.76" height="7.39" fill="url(#db)"/>
<text x="137.80" y="389.88" font-size="9.0" text-anchor="start" fill="#0c1220" stroke="#0c1220" stroke-width="0.2" textLength="21.80" lengthAdjust="spacingAndGlyphs">0.077</text>
<rect x="137.00" y="393.07" width="0.25" height="7.39" fill="url(#db)"/>
<text x="137.80" y="400.16" font-size="9.0" text-anchor="start" fill="#0c1220" stroke="#0c1220" stroke-width="0.2" textLength="21.80" lengthAdjust="spacingAndGlyphs">0.013</text>
<rect x="137.00" y="403.36" width="0.25" height="7.39" fill="url(#db)"/>
<text x="137.80" y="410.45" font-size="9.0" text-anchor="start" fill="#0c1220" stroke="#0c1220" stroke-width="0.2" textLength="21.80" lengthAdjust="spacingAndGlyphs">0.014</text>
<rect x="137.00" y="413.65" width="10.04" height="7.39" fill="url(#db)"/>
<text x="137.80" y="420.74" font-size="9.0" text-anchor="start" fill="#0c1220" stroke="#0c1220" stroke-width="0.2" textLength="21.80" lengthAdjust="spacingAndGlyphs">0.373</text>
<rect x="137.00" y="423.94" width="0.25" height="7.39" fill="url(#db)"/>
<text x="137.80" y="431.03" font-size="9.0" text-anchor="start" fill="#0c1220" stroke="#0c1220" stroke-width="0.2" textLength="21.80" lengthAdjust="spacingAndGlyphs">0.003</text>
<rect x="137.00" y="434.23" width="8.00" height="7.39" fill="url(#db)"/>
<text x="137.80" y="441.31" font-size="9.0" text-anchor="start" fill="#0c1220" stroke="#0c1220" stroke-width="0.2" textLength="21.80" lengthAdjust="spacingAndGlyphs">0.300</text>
<rect x="137.00" y="444.51" width="3.63" height="7.39" fill="url(#db)"/>
<text x="137.80" y="451.60" font-size="9.0" text-anchor="start" fill="#0c1220" stroke="#0c1220" stroke-width="0.2" textLength="21.80" lengthAdjust="spacingAndGlyphs">0.144</text>
<path d="M135.40 370.80H166.00M135.40 381.09H166.00M135.40 391.38H166.00M135.40 401.66H166.00M135.40 411.95H166.00M135.40 422.24H166.00M135.40 432.53H166.00M135.40 442.81H166.00M135.40 453.10H166.00M135.40 370.80V453.10M166.00 370.80V453.10" fill="none" stroke="#6a6a6a" stroke-width="1"/>
<clipPath id="cp4"><rect x="175.20" y="184.20" width="82.10" height="82.10"/></clipPath>
<rect x="175.20" y="184.20" width="82.10" height="82.10" fill="#FBFBFB"/>
<g clip-path="url(#cp4)">
<g filter="url(#tis)">
<path d="M185.2 237.2C196.0 235.0 237.4 234.1 248.8 235.3C260.1 236.6 253.0 240.9 253.4 244.7C253.9 248.4 254.5 254.3 251.6 257.8C248.6 261.2 242.4 264.0 235.7 265.2C229.0 266.5 218.9 265.9 211.4 265.2C203.9 264.6 195.3 264.3 190.8 261.5C186.3 258.7 185.2 252.5 184.3 248.4C183.3 244.4 174.5 239.4 185.2 237.2Z" fill="#E8C468" opacity="0.75" filter="url(#spk3)"/>
<path d="M185.2 237.2C196.0 235.0 237.4 234.1 248.8 235.3C260.1 236.6 253.0 240.9 253.4 244.7C253.9 248.4 254.5 254.3 251.6 257.8C248.6 261.2 242.4 264.0 235.7 265.2C229.0 266.5 218.9 265.9 211.4 265.2C203.9 264.6 195.3 264.3 190.8 261.5C186.3 258.7 185.2 252.5 184.3 248.4C183.3 244.4 174.5 239.4 185.2 237.2Z" fill="#F3E2B0" opacity="0.35" filter="url(#bl2)"/>
<path d="M198.3 190.5C201.6 189.6 207.3 188.5 211.4 188.6C215.4 188.7 218.6 189.7 222.6 190.9C226.7 192.0 232.1 193.9 235.7 195.7C239.3 197.5 241.9 199.4 244.1 201.7C246.3 203.9 248.1 206.4 249.1 209.2C250.2 212.0 250.5 215.6 250.3 218.5C250.1 221.5 248.3 224.0 248.0 226.9C247.8 229.9 249.3 233.9 248.8 236.3C248.3 238.7 248.1 240.2 245.0 241.3C241.9 242.5 235.7 242.9 230.1 243.2C224.5 243.5 217.0 243.5 211.4 243.2C205.8 242.9 200.3 242.3 196.4 241.3C192.5 240.3 189.6 239.8 188.0 237.2C186.4 234.7 187.0 230.0 186.7 226.0C186.4 221.9 185.9 217.0 186.2 212.9C186.4 208.9 187.1 204.9 188.0 201.7C189.0 198.5 190.0 195.7 191.8 193.8C193.5 192.0 195.0 191.3 198.3 190.5Z" fill="#D9962A"/>
<path d="M192.7 196.1C195.8 193.1 202.8 191.1 207.6 191.4C212.5 191.7 218.9 194.1 221.7 198.0C224.5 201.8 224.9 209.5 224.5 214.8C224.0 220.1 222.3 226.6 218.9 229.7C215.4 232.8 208.4 234.1 203.9 233.5C199.4 232.8 194.3 230.0 191.8 226.0C189.3 221.9 188.8 214.2 189.0 209.2C189.1 204.2 189.6 199.0 192.7 196.1Z" fill="#7870A0" opacity="0.5" filter="url(#bl2)"/>
<path d="M192.7 196.1C195.8 193.1 202.8 191.1 207.6 191.4C212.5 191.7 218.9 194.1 221.7 198.0C224.5 201.8 224.9 209.5 224.5 214.8C224.0 220.1 222.3 226.6 218.9 229.7C215.4 232.8 208.4 234.1 203.9 233.5C199.4 232.8 194.3 230.0 191.8 226.0C189.3 221.9 188.8 214.2 189.0 209.2C189.1 204.2 189.6 199.0 192.7 196.1Z" fill="#5068C0" opacity="0.9" filter="url(#spk4)"/>
</g>
</g>
<rect x="175.20" y="184.20" width="82.10" height="82.10" fill="none" stroke="#222" stroke-width="1.2"/>
<circle cx="184.40" cy="192.10" r="5.6" fill="#fff" stroke="#111" stroke-width="0.9"/>
<text x="184.40" y="195.41" font-size="9.2" text-anchor="middle" fill="#111" stroke="#111" stroke-width="0.1">4</text>
<text x="180.10" y="237.50" font-size="8.8" text-anchor="start" font-weight="bold" stroke="#000" stroke-width="0.15" textLength="63.70" lengthAdjust="spacingAndGlyphs">TCGA-FD-A6TG</text>
<text x="180.10" y="249.50" font-size="8.8" text-anchor="start" fill="#1a1a1a" stroke="#1a1a1a" stroke-width="0.15" textLength="36.20" lengthAdjust="spacingAndGlyphs">CrM-high</text>
<text x="180.10" y="260.40" font-size="8.8" text-anchor="start" fill="#1a1a1a" stroke="#1a1a1a" stroke-width="0.15" textLength="45.50" lengthAdjust="spacingAndGlyphs">Stroma-rich</text>
<rect x="262.00" y="186.10" width="33.30" height="10.00" fill="#FFC000"/>
<text x="278.65" y="195.06" font-size="8.6" text-anchor="middle" stroke="#000" stroke-width="0.22" textLength="12.40" lengthAdjust="spacingAndGlyphs">ADI</text>
<rect x="262.00" y="196.05" width="33.30" height="10.00" fill="#0000FF"/>
<text x="278.65" y="205.00" font-size="8.6" text-anchor="middle" fill="#fff" stroke="#fff" stroke-width="0.22" textLength="15.90" lengthAdjust="spacingAndGlyphs">DEB</text>
<rect x="262.00" y="206.00" width="33.30" height="10.00" fill="#FF0000"/>
<text x="278.65" y="214.96" font-size="8.6" text-anchor="middle" fill="#3a0000" stroke="#3a0000" stroke-width="0.22" textLength="16.60" lengthAdjust="spacingAndGlyphs">LYM</text>
<rect x="262.00" y="215.95" width="33.30" height="10.00" fill="#D9D9D9"/>
<text x="278.65" y="224.91" font-size="8.6" text-anchor="middle" fill="#111" stroke="#111" stroke-width="0.22" textLength="18.30" lengthAdjust="spacingAndGlyphs">MUC</text>
<rect x="262.00" y="225.90" width="33.30" height="10.00" fill="#FFC000"/>
<text x="278.65" y="234.85" font-size="8.6" text-anchor="middle" stroke="#000" stroke-width="0.22" textLength="18.20" lengthAdjust="spacingAndGlyphs">MUS</text>
<rect x="262.00" y="235.85" width="33.30" height="10.00" fill="#0000FF"/>
<text x="278.65" y="244.81" font-size="8.6" text-anchor="middle" fill="#fff" stroke="#fff" stroke-width="0.22" textLength="27.30" lengthAdjust="spacingAndGlyphs">NORM</text>
<rect x="262.00" y="245.80" width="33.30" height="10.00" fill="#FFC000"/>
<text x="278.65" y="254.75" font-size="8.6" text-anchor="middle" stroke="#000" stroke-width="0.22" textLength="15.20" lengthAdjust="spacingAndGlyphs">STR</text>
<rect x="262.00" y="255.75" width="33.30" height="10.00" fill="#0000FF"/>
<text x="278.65" y="264.70" font-size="8.6" text-anchor="middle" fill="#fff" stroke="#fff" stroke-width="0.22" textLength="19.20" lengthAdjust="spacingAndGlyphs">TUM</text>
<rect x="298.20" y="185.70" width="30.90" height="80.60" fill="#fff"/>
<rect x="299.80" y="187.40" width="1.64" height="7.18" fill="url(#db)"/>
<text x="300.60" y="194.27" font-size="9.0" text-anchor="start" fill="#0c1220" stroke="#0c1220" stroke-width="0.2" textLength="21.80" lengthAdjust="spacingAndGlyphs">0.073</text>
<rect x="299.80" y="197.47" width="1.31" height="7.18" fill="url(#db)"/>
<text x="300.60" y="204.35" font-size="9.0" text-anchor="start" fill="#0c1220" stroke="#0c1220" stroke-width="0.2" textLength="21.80" lengthAdjust="spacingAndGlyphs">0.061</text>
<rect x="299.80" y="207.55" width="0.25" height="7.18" fill="url(#db)"/>
<text x="300.60" y="214.43" font-size="9.0" text-anchor="start" fill="#0c1220" stroke="#0c1220" stroke-width="0.2" textLength="21.80" lengthAdjust="spacingAndGlyphs">0.005</text>
<rect x="299.80" y="217.62" width="0.25" height="7.18" fill="url(#db)"/>
<text x="300.60" y="224.50" font-size="9.0" text-anchor="start" fill="#0c1220" stroke="#0c1220" stroke-width="0.2" textLength="21.80" lengthAdjust="spacingAndGlyphs">0.017</text>
<rect x="299.80" y="227.70" width="9.96" height="7.18" fill="url(#db)"/>
<text x="300.60" y="234.57" font-size="9.0" text-anchor="start" fill="#0c1220" stroke="#0c1220" stroke-width="0.2" textLength="21.80" lengthAdjust="spacingAndGlyphs">0.370</text>
<rect x="299.80" y="237.77" width="0.25" height="7.18" fill="url(#db)"/>
<text x="300.60" y="244.65" font-size="9.0" text-anchor="start" fill="#0c1220" stroke="#0c1220" stroke-width="0.2" textLength="21.80" lengthAdjust="spacingAndGlyphs">0.004</text>
<rect x="299.80" y="247.85" width="7.55" height="7.18" fill="url(#db)"/>
<text x="300.60" y="254.73" font-size="9.0" text-anchor="start" fill="#0c1220" stroke="#0c1220" stroke-width="0.2" textLength="21.80" lengthAdjust="spacingAndGlyphs">0.284</text>
<rect x="299.80" y="257.93" width="4.11" height="7.18" fill="url(#db)"/>
<text x="300.60" y="264.80" font-size="9.0" text-anchor="start" fill="#0c1220" stroke="#0c1220" stroke-width="0.2" textLength="21.80" lengthAdjust="spacingAndGlyphs">0.161</text>
<path d="M298.20 185.70H329.10M298.20 195.77H329.10M298.20 205.85H329.10M298.20 215.93H329.10M298.20 226.00H329.10M298.20 236.07H329.10M298.20 246.15H329.10M298.20 256.23H329.10M298.20 266.30H329.10M298.20 185.70V266.30M329.10 185.70V266.30" fill="none" stroke="#6a6a6a" stroke-width="1"/>
<clipPath id="cp5"><rect x="175.00" y="277.90" width="82.10" height="81.90"/></clipPath>
<rect x="175.00" y="277.90" width="82.10" height="81.90" fill="#FBFBFB"/>
<g clip-path="url(#cp5)">
<g filter="url(#tis)">
<path d="M230.0 280.4C232.9 281.4 238.0 284.9 241.6 288.2C245.2 291.4 249.4 295.5 251.7 299.8C254.0 304.0 255.2 309.4 255.6 313.7C255.9 318.0 255.3 322.4 253.6 325.7C251.9 329.0 249.4 331.2 245.5 333.4C241.6 335.7 234.5 337.9 230.0 339.2C225.5 340.5 222.3 339.9 218.4 341.2C214.6 342.4 210.7 344.7 206.8 347.0C202.9 349.2 199.1 352.6 195.2 354.7C191.3 356.8 186.7 358.9 183.6 359.5C180.5 360.2 178.1 360.4 176.8 358.6C175.5 356.7 174.7 352.8 175.9 348.5C177.0 344.2 180.7 338.2 183.6 333.0C186.5 327.9 190.1 322.7 193.3 317.6C196.5 312.4 199.4 306.9 202.9 302.1C206.5 297.2 211.0 291.8 214.6 288.5C218.1 285.3 221.6 283.7 224.2 282.4C226.8 281.0 227.1 279.4 230.0 280.4Z" fill="#DE9E30"/>
<path d="M208.8 298.2C213.3 296.8 221.0 299.2 226.2 302.1C231.3 305.0 236.3 310.9 239.7 315.6C243.1 320.3 247.4 326.9 246.5 330.1C245.5 333.3 238.2 333.7 233.9 335.0C229.5 336.3 225.8 335.4 220.4 337.9C214.9 340.3 207.1 346.2 201.0 349.5C194.9 352.7 187.3 357.2 183.6 357.2C179.9 357.2 177.6 354.5 178.8 349.5C179.9 344.5 187.0 333.7 190.4 327.2C193.8 320.8 196.0 315.6 199.1 310.8C202.1 305.9 204.2 299.7 208.8 298.2Z" fill="#4870C8" filter="url(#spk4)"/>
<path d="M208.8 298.2C213.3 296.8 221.0 299.2 226.2 302.1C231.3 305.0 236.3 310.9 239.7 315.6C243.1 320.3 247.4 326.9 246.5 330.1C245.5 333.3 238.2 333.7 233.9 335.0C229.5 336.3 225.8 335.4 220.4 337.9C214.9 340.3 207.1 346.2 201.0 349.5C194.9 352.7 187.3 357.2 183.6 357.2C179.9 357.2 177.6 354.5 178.8 349.5C179.9 344.5 187.0 333.7 190.4 327.2C193.8 320.8 196.0 315.6 199.1 310.8C202.1 305.9 204.2 299.7 208.8 298.2Z" fill="#5E86C8" opacity="0.3" filter="url(#bl2)"/>
<ellipse cx="230.0" cy="281.2" rx="2.7" ry="1.5" fill="#70C040"/>
</g>
</g>
<rect x="175.00" y="277.90" width="82.10" height="81.90" fill="none" stroke="#222" stroke-width="1.6"/>
<circle cx="183.10" cy="286.70" r="5.6" fill="#fff" stroke="#111" stroke-width="0.9"/>
<text x="183.10" y="290.01" font-size="9.2" text-anchor="middle" fill="#111" stroke="#111" stroke-width="0.1">5</text>
<text x="179.60" y="333.10" font-size="8.8" text-anchor="start" font-weight="bold" stroke="#000" stroke-width="0.15" textLength="63.10" lengthAdjust="spacingAndGlyphs">TCGA-GC-A3YS</text>
<text x="179.60" y="345.60" font-size="8.8" text-anchor="start" fill="#1a1a1a" stroke="#1a1a1a" stroke-width="0.15" textLength="36.20" lengthAdjust="spacingAndGlyphs">CrM-high</text>
<text x="179.60" y="356.50" font-size="8.8" text-anchor="start" fill="#1a1a1a" stroke="#1a1a1a" stroke-width="0.15" textLength="22.00" lengthAdjust="spacingAndGlyphs">Ba/Sq</text>
<rect x="262.00" y="279.20" width="33.30" height="10.11" fill="#FFC000"/>
<text x="278.65" y="288.26" font-size="8.6" text-anchor="middle" stroke="#000" stroke-width="0.22" textLength="12.40" lengthAdjust="spacingAndGlyphs">ADI</text>
<rect x="262.00" y="289.26" width="33.30" height="10.11" fill="#0000FF"/>
<text x="278.65" y="298.32" font-size="8.6" text-anchor="middle" fill="#fff" stroke="#fff" stroke-width="0.22" textLength="15.90" lengthAdjust="spacingAndGlyphs">DEB</text>
<rect x="262.00" y="299.32" width="33.30" height="10.11" fill="#FF0000"/>
<text x="278.65" y="308.38" font-size="8.6" text-anchor="middle" fill="#3a0000" stroke="#3a0000" stroke-width="0.22" textLength="16.60" lengthAdjust="spacingAndGlyphs">LYM</text>
<rect x="262.00" y="309.39" width="33.30" height="10.11" fill="#D9D9D9"/>
<text x="278.65" y="318.44" font-size="8.6" text-anchor="middle" fill="#111" stroke="#111" stroke-width="0.22" textLength="18.30" lengthAdjust="spacingAndGlyphs">MUC</text>
<rect x="262.00" y="319.45" width="33.30" height="10.11" fill="#FFC000"/>
<text x="278.65" y="328.51" font-size="8.6" text-anchor="middle" stroke="#000" stroke-width="0.22" textLength="18.20" lengthAdjust="spacingAndGlyphs">MUS</text>
<rect x="262.00" y="329.51" width="33.30" height="10.11" fill="#0000FF"/>
<text x="278.65" y="338.57" font-size="8.6" text-anchor="middle" fill="#fff" stroke="#fff" stroke-width="0.22" textLength="27.30" lengthAdjust="spacingAndGlyphs">NORM</text>
<rect x="262.00" y="339.57" width="33.30" height="10.11" fill="#FFC000"/>
<text x="278.65" y="348.63" font-size="8.6" text-anchor="middle" stroke="#000" stroke-width="0.22" textLength="15.20" lengthAdjust="spacingAndGlyphs">STR</text>
<rect x="262.00" y="349.64" width="33.30" height="10.11" fill="#0000FF"/>
<text x="278.65" y="358.69" font-size="8.6" text-anchor="middle" fill="#fff" stroke="#fff" stroke-width="0.22" textLength="19.20" lengthAdjust="spacingAndGlyphs">TUM</text>
<rect x="298.20" y="278.80" width="30.90" height="81.50" fill="#fff"/>
<rect x="299.80" y="280.50" width="0.25" height="7.29" fill="url(#db)"/>
<text x="300.60" y="287.49" font-size="9.0" text-anchor="start" fill="#0c1220" stroke="#0c1220" stroke-width="0.2" textLength="21.80" lengthAdjust="spacingAndGlyphs">0.018</text>
<rect x="299.80" y="290.69" width="1.17" height="7.29" fill="url(#db)"/>
<text x="300.60" y="297.68" font-size="9.0" text-anchor="start" fill="#0c1220" stroke="#0c1220" stroke-width="0.2" textLength="21.80" lengthAdjust="spacingAndGlyphs">0.056</text>
<rect x="299.80" y="300.88" width="0.25" height="7.29" fill="url(#db)"/>
<text x="300.60" y="307.86" font-size="9.0" text-anchor="start" fill="#0c1220" stroke="#0c1220" stroke-width="0.2" textLength="21.80" lengthAdjust="spacingAndGlyphs">0.002</text>
<rect x="299.80" y="311.06" width="0.25" height="7.29" fill="url(#db)"/>
<text x="300.60" y="318.05" font-size="9.0" text-anchor="start" fill="#0c1220" stroke="#0c1220" stroke-width="0.2" textLength="21.80" lengthAdjust="spacingAndGlyphs">0.005</text>
<rect x="299.80" y="321.25" width="6.32" height="7.29" fill="url(#db)"/>
<text x="300.60" y="328.24" font-size="9.0" text-anchor="start" fill="#0c1220" stroke="#0c1220" stroke-width="0.2" textLength="21.80" lengthAdjust="spacingAndGlyphs">0.240</text>
<rect x="299.80" y="331.44" width="0.25" height="7.29" fill="url(#db)"/>
<text x="300.60" y="338.43" font-size="9.0" text-anchor="start" fill="#0c1220" stroke="#0c1220" stroke-width="0.2" textLength="21.80" lengthAdjust="spacingAndGlyphs">0.007</text>
<rect x="299.80" y="341.62" width="10.94" height="7.29" fill="url(#db)"/>
<text x="300.60" y="348.61" font-size="9.0" text-anchor="start" fill="#0c1220" stroke="#0c1220" stroke-width="0.2" textLength="21.80" lengthAdjust="spacingAndGlyphs">0.405</text>
<rect x="299.80" y="351.81" width="7.05" height="7.29" fill="url(#db)"/>
<text x="300.60" y="358.80" font-size="9.0" text-anchor="start" fill="#0c1220" stroke="#0c1220" stroke-width="0.2" textLength="21.80" lengthAdjust="spacingAndGlyphs">0.266</text>
<path d="M298.20 278.80H329.10M298.20 288.99H329.10M298.20 299.18H329.10M298.20 309.36H329.10M298.20 319.55H329.10M298.20 329.74H329.10M298.20 339.93H329.10M298.20 350.11H329.10M298.20 360.30H329.10M298.20 278.80V360.30M329.10 278.80V360.30" fill="none" stroke="#6a6a6a" stroke-width="1"/>
<clipPath id="cp6"><rect x="362.60" y="183.60" width="83.10" height="82.60"/></clipPath>
<rect x="362.60" y="183.60" width="83.10" height="82.60" fill="#FBFBFB"/>
<g clip-path="url(#cp6)">
<g filter="url(#tis)">
<path d="M419.1 188.3C419.3 187.5 422.8 186.2 424.2 186.1C425.6 186.0 431.7 186.8 432.7 187.4C433.8 188.1 434.9 191.5 434.8 192.6C434.6 193.6 432.0 197.0 431.0 197.7C430.0 198.3 425.9 199.4 425.1 199.0C424.2 198.7 422.8 195.3 422.2 194.3C421.6 193.2 418.9 189.1 419.1 188.3Z" fill="#DFA03A" stroke="#4C68B8" stroke-width="1.3"/>
<path d="M427.6 204.9C428.4 204.2 434.8 203.0 436.1 203.2C437.5 203.5 440.6 206.2 441.2 207.5C441.9 208.8 442.9 214.2 442.9 216.0C443.0 217.8 442.3 224.0 441.7 225.4C441.2 226.7 438.1 229.6 437.0 229.9C435.8 230.3 431.1 229.6 430.2 229.3C429.2 228.9 427.8 227.2 427.6 226.2C427.5 225.2 428.8 220.9 428.8 219.4C428.9 217.9 428.2 212.3 428.1 210.9C428.0 209.4 426.8 205.7 427.6 204.9Z" fill="#DFA03A" stroke="#4C68B8" stroke-width="1.3"/>
<path d="M385.0 199.3C385.4 198.2 388.2 197.4 389.2 197.6C390.3 197.8 394.3 199.9 395.2 201.0C396.1 202.1 398.3 206.9 398.6 208.7C398.9 210.5 398.0 217.2 397.8 218.9C397.5 220.6 396.7 224.8 396.0 225.7C395.4 226.6 391.9 228.3 390.9 228.2C390.0 228.2 387.4 225.9 386.7 224.8C386.0 223.7 384.3 218.8 384.1 217.2C384.0 215.6 385.4 210.5 385.5 208.7C385.6 206.9 384.6 200.4 385.0 199.3Z" fill="#DFA03A" stroke="#4C68B8" stroke-width="1.3"/>
<path d="M372.4 217.3C373.2 216.4 378.0 214.9 379.2 214.8C380.4 214.6 383.7 215.4 384.3 216.1C384.9 216.9 385.5 221.4 385.2 222.4C384.8 223.5 381.9 226.2 380.9 226.7C379.9 227.2 375.9 227.8 375.0 227.5C374.0 227.2 371.3 224.6 371.0 223.6C370.8 222.6 371.6 218.2 372.4 217.3Z" fill="#DFA03A" stroke="#4C68B8" stroke-width="1.3"/>
<path d="M403.9 213.0C404.5 212.2 408.3 210.8 409.0 211.3C409.8 211.8 411.1 216.7 411.2 218.1C411.4 219.6 410.6 224.6 410.2 225.8C409.8 227.0 408.0 230.2 407.3 230.4C406.6 230.5 403.9 228.5 403.4 227.5C402.9 226.4 402.7 221.3 402.7 219.8C402.8 218.4 403.3 213.9 403.9 213.0Z" fill="#DFA03A" stroke="#4C68B8" stroke-width="1.3"/>
<path d="M415.2 217.6C415.9 216.8 419.8 214.7 420.7 215.0C421.5 215.3 423.8 218.9 424.1 220.1C424.3 221.3 423.7 225.8 423.2 226.9C422.7 228.1 419.8 231.5 419.0 231.7C418.1 231.9 415.2 229.5 414.7 228.6C414.2 227.7 413.8 223.8 413.8 222.7C413.9 221.6 414.5 218.3 415.2 217.6Z" fill="#DFA03A" stroke="#4C68B8" stroke-width="1.3"/>
<path d="M381.1 243.0C381.8 242.2 385.8 240.0 387.0 239.9C388.3 239.8 392.8 240.8 393.5 241.6C394.2 242.4 394.8 246.4 394.4 247.6C393.9 248.7 389.9 252.3 388.7 252.7C387.5 253.0 383.2 252.0 382.3 251.5C381.4 251.0 380.0 248.4 379.9 247.6C379.8 246.7 380.4 243.7 381.1 243.0Z" fill="#DFA03A" stroke="#4C68B8" stroke-width="1.3"/>
<path d="M369.1 242.2C369.7 241.4 373.5 239.2 374.2 239.3C374.9 239.4 376.1 242.1 375.9 243.0C375.7 243.9 373.3 247.7 372.5 248.1C371.7 248.6 368.6 247.9 368.2 247.3C367.9 246.7 368.5 243.0 369.1 242.2Z" fill="#DFA03A" stroke="#4C68B8" stroke-width="1.3"/>
<path d="M399.2 241.0C400.0 240.1 405.1 238.0 406.0 238.4C407.0 238.8 408.5 243.8 408.6 245.2C408.7 246.7 407.4 251.7 406.9 252.9C406.4 254.1 404.2 257.3 403.5 257.5C402.7 257.6 399.7 255.6 399.2 254.6C398.7 253.5 398.4 248.3 398.4 246.9C398.4 245.6 398.4 241.8 399.2 241.0Z" fill="#DFA03A" stroke="#4C68B8" stroke-width="1.3"/>
<path d="M387.8 257.2C388.4 256.3 395.0 254.9 395.9 255.5C396.9 256.0 397.9 262.0 397.3 262.8C396.7 263.7 390.7 264.6 389.8 264.0C388.8 263.4 387.1 258.0 387.8 257.2Z" fill="#DFA03A" stroke="#4C68B8" stroke-width="1.3"/>
<path d="M390.6 232.0C391.4 231.2 398.2 229.8 399.2 230.3C400.1 230.7 401.1 235.7 400.3 236.4C399.6 237.1 392.8 237.8 391.8 237.4C390.9 237.0 389.9 232.7 390.6 232.0Z" fill="#DFA03A" stroke="#4C68B8" stroke-width="1.3"/>
<path d="M410.5 236.6C411.1 235.6 416.7 234.4 417.6 235.1C418.6 235.8 420.3 242.9 419.7 244.0C419.1 245.1 412.4 246.7 411.5 246.0C410.6 245.3 409.9 237.7 410.5 236.6Z" fill="#DFA03A" stroke="#4C68B8" stroke-width="1.3"/>
<path d="M419.1 188.3C419.3 187.5 422.8 186.2 424.2 186.1C425.6 186.0 431.7 186.8 432.7 187.4C433.8 188.1 434.9 191.5 434.8 192.6C434.6 193.6 432.0 197.0 431.0 197.7C430.0 198.3 425.9 199.4 425.1 199.0C424.2 198.7 422.8 195.3 422.2 194.3C421.6 193.2 418.9 189.1 419.1 188.3Z" fill="#4C6CC0" filter="url(#spk4)"/>
<path d="M427.6 204.9C428.4 204.2 434.8 203.0 436.1 203.2C437.5 203.5 440.6 206.2 441.2 207.5C441.9 208.8 442.9 214.2 442.9 216.0C443.0 217.8 442.3 224.0 441.7 225.4C441.2 226.7 438.1 229.6 437.0 229.9C435.8 230.3 431.1 229.6 430.2 229.3C429.2 228.9 427.8 227.2 427.6 226.2C427.5 225.2 428.8 220.9 428.8 219.4C428.9 217.9 428.2 212.3 428.1 210.9C428.0 209.4 426.8 205.7 427.6 204.9Z" fill="#4C6CC0" filter="url(#spk4)"/>
<path d="M385.0 199.3C385.4 198.2 388.2 197.4 389.2 197.6C390.3 197.8 394.3 199.9 395.2 201.0C396.1 202.1 398.3 206.9 398.6 208.7C398.9 210.5 398.0 217.2 397.8 218.9C397.5 220.6 396.7 224.8 396.0 225.7C395.4 226.6 391.9 228.3 390.9 228.2C390.0 228.2 387.4 225.9 386.7 224.8C386.0 223.7 384.3 218.8 384.1 217.2C384.0 215.6 385.4 210.5 385.5 208.7C385.6 206.9 384.6 200.4 385.0 199.3Z" fill="#4C6CC0" filter="url(#spk4)"/>
<path d="M372.4 217.3C373.2 216.4 378.0 214.9 379.2 214.8C380.4 214.6 383.7 215.4 384.3 216.1C384.9 216.9 385.5 221.4 385.2 222.4C384.8 223.5 381.9 226.2 380.9 226.7C379.9 227.2 375.9 227.8 375.0 227.5C374.0 227.2 371.3 224.6 371.0 223.6C370.8 222.6 371.6 218.2 372.4 217.3Z" fill="#4C6CC0" filter="url(#spk4)"/>
<path d="M403.9 213.0C404.5 212.2 408.3 210.8 409.0 211.3C409.8 211.8 411.1 216.7 411.2 218.1C411.4 219.6 410.6 224.6 410.2 225.8C409.8 227.0 408.0 230.2 407.3 230.4C406.6 230.5 403.9 228.5 403.4 227.5C402.9 226.4 402.7 221.3 402.7 219.8C402.8 218.4 403.3 213.9 403.9 213.0Z" fill="#4C6CC0" filter="url(#spk4)"/>
<path d="M415.2 217.6C415.9 216.8 419.8 214.7 420.7 215.0C421.5 215.3 423.8 218.9 424.1 220.1C424.3 221.3 423.7 225.8 423.2 226.9C422.7 228.1 419.8 231.5 419.0 231.7C418.1 231.9 415.2 229.5 414.7 228.6C414.2 227.7 413.8 223.8 413.8 222.7C413.9 221.6 414.5 218.3 415.2 217.6Z" fill="#4C6CC0" filter="url(#spk4)"/>
<path d="M381.1 243.0C381.8 242.2 385.8 240.0 387.0 239.9C388.3 239.8 392.8 240.8 393.5 241.6C394.2 242.4 394.8 246.4 394.4 247.6C393.9 248.7 389.9 252.3 388.7 252.7C387.5 253.0 383.2 252.0 382.3 251.5C381.4 251.0 380.0 248.4 379.9 247.6C379.8 246.7 380.4 243.7 381.1 243.0Z" fill="#4C6CC0" filter="url(#spk4)"/>
<path d="M369.1 242.2C369.7 241.4 373.5 239.2 374.2 239.3C374.9 239.4 376.1 242.1 375.9 243.0C375.7 243.9 373.3 247.7 372.5 248.1C371.7 248.6 368.6 247.9 368.2 247.3C367.9 246.7 368.5 243.0 369.1 242.2Z" fill="#4C6CC0" filter="url(#spk4)"/>
<path d="M399.2 241.0C400.0 240.1 405.1 238.0 406.0 238.4C407.0 238.8 408.5 243.8 408.6 245.2C408.7 246.7 407.4 251.7 406.9 252.9C406.4 254.1 404.2 257.3 403.5 257.5C402.7 257.6 399.7 255.6 399.2 254.6C398.7 253.5 398.4 248.3 398.4 246.9C398.4 245.6 398.4 241.8 399.2 241.0Z" fill="#4C6CC0" filter="url(#spk4)"/>
<path d="M387.8 257.2C388.4 256.3 395.0 254.9 395.9 255.5C396.9 256.0 397.9 262.0 397.3 262.8C396.7 263.7 390.7 264.6 389.8 264.0C388.8 263.4 387.1 258.0 387.8 257.2Z" fill="#4C6CC0" filter="url(#spk4)"/>
<path d="M390.6 232.0C391.4 231.2 398.2 229.8 399.2 230.3C400.1 230.7 401.1 235.7 400.3 236.4C399.6 237.1 392.8 237.8 391.8 237.4C390.9 237.0 389.9 232.7 390.6 232.0Z" fill="#4C6CC0" filter="url(#spk4)"/>
<path d="M410.5 236.6C411.1 235.6 416.7 234.4 417.6 235.1C418.6 235.8 420.3 242.9 419.7 244.0C419.1 245.1 412.4 246.7 411.5 246.0C410.6 245.3 409.9 237.7 410.5 236.6Z" fill="#4C6CC0" filter="url(#spk4)"/>
<ellipse cx="432.0" cy="216.8" rx="2.7" ry="5.8" fill="#F4EEE4" opacity="0.8"/>
</g>
</g>
<rect x="362.60" y="183.60" width="83.10" height="82.60" fill="none" stroke="#222" stroke-width="1.2"/>
<circle cx="372.60" cy="191.20" r="5.6" fill="#fff" stroke="#111" stroke-width="0.9"/>
<text x="372.60" y="194.51" font-size="9.2" text-anchor="middle" fill="#111" stroke="#111" stroke-width="0.1">6</text>
<text x="441.80" y="238.60" font-size="8.8" text-anchor="end" font-weight="bold" stroke="#000" stroke-width="0.15" textLength="64.80" lengthAdjust="spacingAndGlyphs">TCGA-DK-A1AD</text>
<text x="441.90" y="249.90" font-size="8.8" text-anchor="end" fill="#1a1a1a" stroke="#1a1a1a" stroke-width="0.15" textLength="31.90" lengthAdjust="spacingAndGlyphs">CrM-low</text>
<text x="441.90" y="261.80" font-size="8.8" text-anchor="end" fill="#1a1a1a" stroke="#1a1a1a" stroke-width="0.15" textLength="25.70" lengthAdjust="spacingAndGlyphs">LumNS</text>
<rect x="451.80" y="184.20" width="34.10" height="10.20" fill="#FFC000"/>
<text x="468.85" y="193.33" font-size="8.6" text-anchor="middle" stroke="#000" stroke-width="0.22" textLength="12.40" lengthAdjust="spacingAndGlyphs">ADI</text>
<rect x="451.80" y="194.35" width="34.10" height="10.20" fill="#0000FF"/>
<text x="468.85" y="203.48" font-size="8.6" text-anchor="middle" fill="#fff" stroke="#fff" stroke-width="0.22" textLength="15.90" lengthAdjust="spacingAndGlyphs">DEB</text>
<rect x="451.80" y="204.50" width="34.10" height="10.20" fill="#FF0000"/>
<text x="468.85" y="213.63" font-size="8.6" text-anchor="middle" fill="#3a0000" stroke="#3a0000" stroke-width="0.22" textLength="16.60" lengthAdjust="spacingAndGlyphs">LYM</text>
<rect x="451.80" y="214.65" width="34.10" height="10.20" fill="#D9D9D9"/>
<text x="468.85" y="223.78" font-size="8.6" text-anchor="middle" fill="#111" stroke="#111" stroke-width="0.22" textLength="18.30" lengthAdjust="spacingAndGlyphs">MUC</text>
<rect x="451.80" y="224.80" width="34.10" height="10.20" fill="#FFC000"/>
<text x="468.85" y="233.93" font-size="8.6" text-anchor="middle" stroke="#000" stroke-width="0.22" textLength="18.20" lengthAdjust="spacingAndGlyphs">MUS</text>
<rect x="451.80" y="234.95" width="34.10" height="10.20" fill="#0000FF"/>
<text x="468.85" y="244.08" font-size="8.6" text-anchor="middle" fill="#fff" stroke="#fff" stroke-width="0.22" textLength="27.30" lengthAdjust="spacingAndGlyphs">NORM</text>
<rect x="451.80" y="245.10" width="34.10" height="10.20" fill="#FFC000"/>
<text x="468.85" y="254.23" font-size="8.6" text-anchor="middle" stroke="#000" stroke-width="0.22" textLength="15.20" lengthAdjust="spacingAndGlyphs">STR</text>
<rect x="451.80" y="255.25" width="34.10" height="10.20" fill="#0000FF"/>
<text x="468.85" y="264.38" font-size="8.6" text-anchor="middle" fill="#fff" stroke="#fff" stroke-width="0.22" textLength="19.20" lengthAdjust="spacingAndGlyphs">TUM</text>
<rect x="489.00" y="183.80" width="30.60" height="82.20" fill="#fff"/>
<rect x="490.60" y="185.50" width="0.69" height="7.38" fill="url(#db)"/>
<text x="491.40" y="192.57" font-size="9.0" text-anchor="start" fill="#0c1220" stroke="#0c1220" stroke-width="0.2" textLength="21.80" lengthAdjust="spacingAndGlyphs">0.039</text>
<rect x="490.60" y="195.77" width="5.48" height="7.38" fill="url(#db)"/>
<text x="491.40" y="202.85" font-size="9.0" text-anchor="start" fill="#0c1220" stroke="#0c1220" stroke-width="0.2" textLength="21.80" lengthAdjust="spacingAndGlyphs">0.210</text>
<rect x="490.60" y="206.05" width="0.50" height="7.38" fill="url(#db)"/>
<text x="491.40" y="213.12" font-size="9.0" text-anchor="start" fill="#0c1220" stroke="#0c1220" stroke-width="0.2" textLength="21.80" lengthAdjust="spacingAndGlyphs">0.032</text>
<rect x="490.60" y="216.32" width="0.25" height="7.38" fill="url(#db)"/>
<text x="491.40" y="223.40" font-size="9.0" text-anchor="start" fill="#0c1220" stroke="#0c1220" stroke-width="0.2" textLength="21.80" lengthAdjust="spacingAndGlyphs">0.021</text>
<rect x="490.60" y="226.60" width="3.49" height="7.38" fill="url(#db)"/>
<text x="491.40" y="233.67" font-size="9.0" text-anchor="start" fill="#0c1220" stroke="#0c1220" stroke-width="0.2" textLength="21.80" lengthAdjust="spacingAndGlyphs">0.139</text>
<rect x="490.60" y="236.88" width="0.25" height="7.38" fill="url(#db)"/>
<text x="491.40" y="243.95" font-size="9.0" text-anchor="start" fill="#0c1220" stroke="#0c1220" stroke-width="0.2" textLength="21.80" lengthAdjust="spacingAndGlyphs">0.016</text>
<rect x="490.60" y="247.15" width="6.94" height="7.38" fill="url(#db)"/>
<text x="491.40" y="254.22" font-size="9.0" text-anchor="start" fill="#0c1220" stroke="#0c1220" stroke-width="0.2" textLength="21.80" lengthAdjust="spacingAndGlyphs">0.262</text>
<rect x="490.60" y="257.43" width="7.02" height="7.38" fill="url(#db)"/>
<text x="491.40" y="264.50" font-size="9.0" text-anchor="start" fill="#0c1220" stroke="#0c1220" stroke-width="0.2" textLength="21.80" lengthAdjust="spacingAndGlyphs">0.265</text>
<path d="M489.00 183.80H519.60M489.00 194.07H519.60M489.00 204.35H519.60M489.00 214.62H519.60M489.00 224.90H519.60M489.00 235.18H519.60M489.00 245.45H519.60M489.00 255.72H519.60M489.00 266.00H519.60M489.00 183.80V266.00M519.60 183.80V266.00" fill="none" stroke="#6a6a6a" stroke-width="1"/>
<clipPath id="cp7"><rect x="362.60" y="277.20" width="83.50" height="83.10"/></clipPath>
<rect x="362.60" y="277.20" width="83.50" height="83.10" fill="#FBFBFB"/>
<g clip-path="url(#cp7)">
<g filter="url(#bl0)">
<path d="M363.9 279.8C367.1 266.8 379.3 276.9 383.2 279.8C387.1 282.7 386.8 291.7 387.1 297.2C387.4 302.7 385.1 306.9 385.1 312.7C385.1 318.5 387.1 326.2 387.1 332.0C387.1 337.8 384.8 344.0 385.1 347.5C385.5 351.0 390.0 351.6 389.0 353.3C388.0 355.0 383.5 356.8 379.3 357.6C375.2 358.3 366.4 370.5 363.9 357.6C361.3 344.6 360.6 292.8 363.9 279.8Z" fill="#F6F0E2"/>
<path d="M365.8 285.6C367.1 289.2 371.0 300.4 373.5 306.9C376.1 313.3 379.2 318.8 381.3 324.3C383.4 329.8 385.3 337.2 386.1 339.8" fill="none" stroke="#E2BC50" stroke-width="1.8"/>
<path d="M363.9 303.0C364.8 306.6 367.7 317.8 369.7 324.3C371.6 330.7 374.2 336.4 375.5 341.7C376.8 347.0 377.1 353.8 377.4 356.2" fill="none" stroke="#E6C468" stroke-width="1.5"/>
<path d="M371.6 281.7C372.7 284.3 376.4 291.7 378.4 297.2C380.3 302.7 382.4 311.7 383.2 314.6" fill="none" stroke="#EBD088" stroke-width="1.2"/>
</g>
<g filter="url(#tis)">
<path d="M381.3 279.8C383.9 279.0 393.2 279.8 398.7 280.8C404.2 281.7 409.6 283.2 414.2 285.6C418.7 288.0 422.5 291.7 425.8 295.3C429.0 298.8 431.6 303.0 433.5 306.9C435.4 310.8 436.1 315.6 437.4 318.5C438.7 321.4 441.6 322.4 441.2 324.3C440.9 326.2 438.3 328.2 435.4 330.1C432.5 332.0 428.0 334.0 423.8 335.9C419.6 337.8 414.5 339.8 410.3 341.7C406.1 343.6 402.2 345.9 398.7 347.5C395.1 349.1 391.3 351.4 389.0 351.4C386.8 351.4 385.5 350.7 385.1 347.5C384.8 344.3 387.1 337.8 387.1 332.0C387.1 326.2 385.1 318.5 385.1 312.7C385.1 306.9 387.4 301.7 387.1 297.2C386.8 292.7 384.2 288.5 383.2 285.6C382.2 282.7 378.7 280.6 381.3 279.8Z" fill="#6680D0"/>
<path d="M382.2 280.8C384.5 279.2 393.8 280.4 398.7 281.4C403.5 282.3 409.8 284.6 411.3 286.6C412.7 288.6 410.1 292.5 407.4 293.3C404.6 294.2 398.5 292.2 394.8 291.8C391.1 291.4 387.2 292.9 385.1 291.0C383.0 289.2 380.0 282.4 382.2 280.8Z" fill="#D9A040" filter="url(#bl1)"/>
<path d="M405.5 286.0C406.6 284.4 413.7 287.2 416.1 289.1C418.4 291.0 420.7 295.6 419.6 297.2C418.4 298.8 411.7 300.6 409.3 298.8C407.0 296.9 404.3 287.6 405.5 286.0Z" fill="#D8A058" filter="url(#bl1)"/>
<path d="M418.0 303.0C420.9 301.1 428.3 304.0 431.6 306.9C434.8 309.8 437.0 316.6 437.4 320.4C437.7 324.3 436.4 328.2 433.5 330.1C430.6 332.0 423.2 334.0 420.0 332.0C416.7 330.1 414.5 323.3 414.2 318.5C413.8 313.7 415.1 304.9 418.0 303.0Z" fill="#9C8CAC" filter="url(#bl1)"/>
<path d="M394.8 332.0C398.0 328.8 406.4 329.1 410.3 330.1C414.2 331.1 419.3 335.3 418.0 337.8C416.7 340.4 407.1 343.6 402.6 345.6C398.0 347.5 392.2 351.7 390.9 349.4C389.7 347.2 391.6 335.3 394.8 332.0Z" fill="#A09080" opacity="0.8" filter="url(#bl1)"/>
<path d="M385.5 297.2C386.4 289.2 391.2 292.4 392.5 299.1C393.8 305.9 394.2 329.8 393.3 337.8C392.4 345.9 388.4 354.3 387.1 347.5C385.8 340.7 384.6 305.3 385.5 297.2Z" fill="#D8A850" opacity="0.85" filter="url(#bl1)"/>
<path d="M381.3 279.8C383.9 279.0 393.2 279.8 398.7 280.8C404.2 281.7 409.6 283.2 414.2 285.6C418.7 288.0 422.5 291.7 425.8 295.3C429.0 298.8 431.6 303.0 433.5 306.9C435.4 310.8 436.1 315.6 437.4 318.5C438.7 321.4 441.6 322.4 441.2 324.3C440.9 326.2 438.3 328.2 435.4 330.1C432.5 332.0 428.0 334.0 423.8 335.9C419.6 337.8 414.5 339.8 410.3 341.7C406.1 343.6 402.2 345.9 398.7 347.5C395.1 349.1 391.3 351.4 389.0 351.4C386.8 351.4 385.5 350.7 385.1 347.5C384.8 344.3 387.1 337.8 387.1 332.0C387.1 326.2 385.1 318.5 385.1 312.7C385.1 306.9 387.4 301.7 387.1 297.2C386.8 292.7 384.2 288.5 383.2 285.6C382.2 282.7 378.7 280.6 381.3 279.8Z" fill="#C8A060" opacity="0.5" filter="url(#spk3)"/>
<ellipse cx="381.3" cy="292.4" rx="2.1" ry="1.9" fill="#D04858"/>
<ellipse cx="383.2" cy="304.0" rx="1.2" ry="1.2" fill="#D04858"/>
</g>
</g>
<rect x="362.60" y="277.20" width="83.50" height="83.10" fill="none" stroke="#222" stroke-width="1.2"/>
<circle cx="372.60" cy="284.80" r="5.6" fill="#fff" stroke="#111" stroke-width="0.9"/>
<text x="372.60" y="288.11" font-size="9.2" text-anchor="middle" fill="#111" stroke="#111" stroke-width="0.1">7</text>
<text x="443.30" y="329.10" font-size="8.8" text-anchor="end" font-weight="bold" stroke="#000" stroke-width="0.15" textLength="67.00" lengthAdjust="spacingAndGlyphs">TCGA-GC-A4ZW</text>
<text x="443.30" y="341.50" font-size="8.8" text-anchor="end" fill="#1a1a1a" stroke="#1a1a1a" stroke-width="0.15" textLength="32.90" lengthAdjust="spacingAndGlyphs">CrM-low</text>
<text x="443.30" y="352.60" font-size="8.8" text-anchor="end" fill="#1a1a1a" stroke="#1a1a1a" stroke-width="0.15" textLength="22.40" lengthAdjust="spacingAndGlyphs">LumU</text>
<rect x="451.80" y="278.10" width="34.10" height="10.20" fill="#FFC000"/>
<text x="468.85" y="287.24" font-size="8.6" text-anchor="middle" stroke="#000" stroke-width="0.22" textLength="12.40" lengthAdjust="spacingAndGlyphs">ADI</text>
<rect x="451.80" y="288.25" width="34.10" height="10.20" fill="#0000FF"/>
<text x="468.85" y="297.38" font-size="8.6" text-anchor="middle" fill="#fff" stroke="#fff" stroke-width="0.22" textLength="15.90" lengthAdjust="spacingAndGlyphs">DEB</text>
<rect x="451.80" y="298.40" width="34.10" height="10.20" fill="#FF0000"/>
<text x="468.85" y="307.54" font-size="8.6" text-anchor="middle" fill="#3a0000" stroke="#3a0000" stroke-width="0.22" textLength="16.60" lengthAdjust="spacingAndGlyphs">LYM</text>
<rect x="451.80" y="308.55" width="34.10" height="10.20" fill="#D9D9D9"/>
<text x="468.85" y="317.69" font-size="8.6" text-anchor="middle" fill="#111" stroke="#111" stroke-width="0.22" textLength="18.30" lengthAdjust="spacingAndGlyphs">MUC</text>
<rect x="451.80" y="318.70" width="34.10" height="10.20" fill="#FFC000"/>
<text x="468.85" y="327.84" font-size="8.6" text-anchor="middle" stroke="#000" stroke-width="0.22" textLength="18.20" lengthAdjust="spacingAndGlyphs">MUS</text>
<rect x="451.80" y="328.85" width="34.10" height="10.20" fill="#0000FF"/>
<text x="468.85" y="337.99" font-size="8.6" text-anchor="middle" fill="#fff" stroke="#fff" stroke-width="0.22" textLength="27.30" lengthAdjust="spacingAndGlyphs">NORM</text>
<rect x="451.80" y="339.00" width="34.10" height="10.20" fill="#FFC000"/>
<text x="468.85" y="348.13" font-size="8.6" text-anchor="middle" stroke="#000" stroke-width="0.22" textLength="15.20" lengthAdjust="spacingAndGlyphs">STR</text>
<rect x="451.80" y="349.15" width="34.10" height="10.20" fill="#0000FF"/>
<text x="468.85" y="358.28" font-size="8.6" text-anchor="middle" fill="#fff" stroke="#fff" stroke-width="0.22" textLength="19.20" lengthAdjust="spacingAndGlyphs">TUM</text>
<rect x="489.00" y="277.70" width="30.60" height="82.20" fill="#fff"/>
<rect x="490.60" y="279.40" width="2.48" height="7.37" fill="url(#db)"/>
<text x="491.40" y="286.48" font-size="9.0" text-anchor="start" fill="#0c1220" stroke="#0c1220" stroke-width="0.2" textLength="21.80" lengthAdjust="spacingAndGlyphs">0.103</text>
<rect x="490.60" y="289.68" width="4.75" height="7.37" fill="url(#db)"/>
<text x="491.40" y="296.75" font-size="9.0" text-anchor="start" fill="#0c1220" stroke="#0c1220" stroke-width="0.2" textLength="21.80" lengthAdjust="spacingAndGlyphs">0.184</text>
<rect x="490.60" y="299.95" width="0.94" height="7.37" fill="url(#db)"/>
<text x="491.40" y="307.03" font-size="9.0" text-anchor="start" fill="#0c1220" stroke="#0c1220" stroke-width="0.2" textLength="21.80" lengthAdjust="spacingAndGlyphs">0.048</text>
<rect x="490.60" y="310.23" width="1.36" height="7.37" fill="url(#db)"/>
<text x="491.40" y="317.30" font-size="9.0" text-anchor="start" fill="#0c1220" stroke="#0c1220" stroke-width="0.2" textLength="21.80" lengthAdjust="spacingAndGlyphs">0.063</text>
<rect x="490.60" y="320.50" width="2.74" height="7.37" fill="url(#db)"/>
<text x="491.40" y="327.58" font-size="9.0" text-anchor="start" fill="#0c1220" stroke="#0c1220" stroke-width="0.2" textLength="21.80" lengthAdjust="spacingAndGlyphs">0.112</text>
<rect x="490.60" y="330.78" width="0.25" height="7.37" fill="url(#db)"/>
<text x="491.40" y="337.85" font-size="9.0" text-anchor="start" fill="#0c1220" stroke="#0c1220" stroke-width="0.2" textLength="21.80" lengthAdjust="spacingAndGlyphs">0.010</text>
<rect x="490.60" y="341.05" width="4.98" height="7.37" fill="url(#db)"/>
<text x="491.40" y="348.12" font-size="9.0" text-anchor="start" fill="#0c1220" stroke="#0c1220" stroke-width="0.2" textLength="21.80" lengthAdjust="spacingAndGlyphs">0.192</text>
<rect x="490.60" y="351.32" width="6.82" height="7.37" fill="url(#db)"/>
<text x="491.40" y="358.40" font-size="9.0" text-anchor="start" fill="#0c1220" stroke="#0c1220" stroke-width="0.2" textLength="21.80" lengthAdjust="spacingAndGlyphs">0.258</text>
<path d="M489.00 277.70H519.60M489.00 287.98H519.60M489.00 298.25H519.60M489.00 308.53H519.60M489.00 318.80H519.60M489.00 329.08H519.60M489.00 339.35H519.60M489.00 349.62H519.60M489.00 359.90H519.60M489.00 277.70V359.90M519.60 277.70V359.90" fill="none" stroke="#6a6a6a" stroke-width="1"/>
<clipPath id="cp8"><rect x="362.60" y="370.30" width="83.70" height="82.70"/></clipPath>
<rect x="362.60" y="370.30" width="83.70" height="82.70" fill="#FBFBFB"/>
<g clip-path="url(#cp8)">
<g filter="url(#tis)">
<path d="M365.7 443.8C365.7 442.1 366.4 439.9 367.6 438.2C368.9 436.5 370.7 435.1 373.2 433.6C375.7 432.0 379.4 430.4 382.6 428.9C385.7 427.3 389.6 426.2 391.9 424.2C394.2 422.2 395.3 419.5 396.6 416.7C397.8 413.9 398.5 410.5 399.4 407.4C400.3 404.3 400.6 400.4 402.2 398.0C403.7 395.7 406.1 394.6 408.7 393.4C411.4 392.1 415.0 391.5 418.1 390.6C421.2 389.6 424.3 389.0 427.4 387.8C430.5 386.5 434.0 384.2 436.8 383.1C439.6 382.0 442.8 380.0 444.2 381.2C445.6 382.5 445.8 388.1 445.2 390.6C444.6 393.1 442.4 394.5 440.5 396.2C438.6 397.9 436.1 399.3 434.0 400.8C431.8 402.4 429.4 404.0 427.4 405.5C425.4 407.1 423.7 408.9 421.8 410.2C419.9 411.4 417.9 411.6 416.2 413.0C414.5 414.4 413.1 416.7 411.5 418.6C410.0 420.5 408.4 422.3 406.9 424.2C405.3 426.1 403.7 428.3 402.2 429.8C400.6 431.4 399.5 432.2 397.5 433.6C395.5 435.0 392.8 436.7 390.0 438.2C387.2 439.8 383.5 441.3 380.7 442.9C377.9 444.5 375.4 446.6 373.2 447.6C371.0 448.5 368.9 449.1 367.6 448.5C366.4 447.9 365.7 445.5 365.7 443.8Z" fill="#DFB248"/>
<path d="M416.2 390.9C418.4 388.6 424.0 389.1 427.4 387.8C430.9 386.4 434.0 384.1 436.8 383.1C439.6 382.1 442.8 380.3 444.2 381.6C445.6 382.8 445.8 388.1 445.2 390.6C444.6 393.0 442.4 394.5 440.5 396.2C438.6 397.9 436.1 399.3 434.0 400.8C431.8 402.4 429.4 404.0 427.4 405.5C425.4 407.1 423.5 409.1 421.8 410.2C420.1 411.3 418.4 413.5 417.1 412.1C415.9 410.7 414.5 405.3 414.3 401.8C414.2 398.3 414.0 393.3 416.2 390.9Z" fill="#C4A878" filter="url(#bl1)"/>
<path d="M416.2 390.9C418.4 388.6 424.0 389.1 427.4 387.8C430.9 386.4 434.0 384.1 436.8 383.1C439.6 382.1 442.8 380.3 444.2 381.6C445.6 382.8 445.8 388.1 445.2 390.6C444.6 393.0 442.4 394.5 440.5 396.2C438.6 397.9 436.1 399.3 434.0 400.8C431.8 402.4 429.4 404.0 427.4 405.5C425.4 407.1 423.5 409.1 421.8 410.2C420.1 411.3 418.4 413.5 417.1 412.1C415.9 410.7 414.5 405.3 414.3 401.8C414.2 398.3 414.0 393.3 416.2 390.9Z" fill="#6078C0" opacity="0.8" filter="url(#spk3)"/>
<path d="M397.1 416.7C397.3 413.3 398.5 410.5 399.4 407.4C400.2 404.3 400.6 400.4 402.2 398.0C403.7 395.7 406.2 394.5 408.7 393.4C411.2 392.2 415.6 389.5 417.1 390.9C418.7 392.3 418.2 398.1 418.1 401.8C417.9 405.5 417.3 410.2 416.2 413.0C415.1 415.8 413.1 416.7 411.5 418.6C410.0 420.5 408.4 422.3 406.9 424.2C405.3 426.1 403.6 429.2 402.2 429.8C400.8 430.4 399.3 430.1 398.5 427.9C397.6 425.8 397.0 420.2 397.1 416.7Z" fill="#4C6CC8" filter="url(#bl1)"/>
<path d="M405.9 410.2C407.3 407.8 411.7 404.3 413.4 404.6C415.1 404.9 416.8 409.5 416.2 412.1C415.6 414.6 411.5 418.9 409.7 420.1C407.9 421.2 406.0 420.6 405.4 419.0C404.7 417.3 404.6 412.6 405.9 410.2Z" fill="#E6E6EC" opacity="0.9" filter="url(#bl1)"/>
<path d="M369.5 439.2C370.4 437.6 376.6 435.1 378.8 435.4C381.0 435.7 383.5 439.5 382.6 441.0C381.6 442.6 375.4 445.1 373.2 444.8C371.0 444.5 368.5 440.7 369.5 439.2Z" fill="#F2E6C0" opacity="0.6" filter="url(#bl1)"/>
</g>
</g>
<rect x="362.60" y="370.30" width="83.70" height="82.70" fill="none" stroke="#222" stroke-width="1.2"/>
<circle cx="372.30" cy="379.70" r="5.6" fill="#fff" stroke="#111" stroke-width="0.9"/>
<text x="372.30" y="383.01" font-size="9.2" text-anchor="middle" fill="#111" stroke="#111" stroke-width="0.1">8</text>
<text x="443.30" y="423.10" font-size="8.8" text-anchor="end" font-weight="bold" stroke="#000" stroke-width="0.15" textLength="62.60" lengthAdjust="spacingAndGlyphs">TCGA-BL-A3JM</text>
<text x="443.30" y="434.70" font-size="8.8" text-anchor="end" fill="#1a1a1a" stroke="#1a1a1a" stroke-width="0.15" textLength="32.90" lengthAdjust="spacingAndGlyphs">CrM-low</text>
<text x="443.30" y="446.80" font-size="8.8" text-anchor="end" fill="#1a1a1a" stroke="#1a1a1a" stroke-width="0.15" textLength="26.60" lengthAdjust="spacingAndGlyphs">NE-like</text>
<rect x="451.80" y="371.80" width="34.10" height="10.14" fill="#FFC000"/>
<text x="468.85" y="380.88" font-size="8.6" text-anchor="middle" stroke="#000" stroke-width="0.22" textLength="12.40" lengthAdjust="spacingAndGlyphs">ADI</text>
<rect x="451.80" y="381.89" width="34.10" height="10.14" fill="#0000FF"/>
<text x="468.85" y="390.97" font-size="8.6" text-anchor="middle" fill="#fff" stroke="#fff" stroke-width="0.22" textLength="15.90" lengthAdjust="spacingAndGlyphs">DEB</text>
<rect x="451.80" y="391.98" width="34.10" height="10.14" fill="#FF0000"/>
<text x="468.85" y="401.05" font-size="8.6" text-anchor="middle" fill="#3a0000" stroke="#3a0000" stroke-width="0.22" textLength="16.60" lengthAdjust="spacingAndGlyphs">LYM</text>
<rect x="451.80" y="402.06" width="34.10" height="10.14" fill="#D9D9D9"/>
<text x="468.85" y="411.14" font-size="8.6" text-anchor="middle" fill="#111" stroke="#111" stroke-width="0.22" textLength="18.30" lengthAdjust="spacingAndGlyphs">MUC</text>
<rect x="451.80" y="412.15" width="34.10" height="10.14" fill="#FFC000"/>
<text x="468.85" y="421.23" font-size="8.6" text-anchor="middle" stroke="#000" stroke-width="0.22" textLength="18.20" lengthAdjust="spacingAndGlyphs">MUS</text>
<rect x="451.80" y="422.24" width="34.10" height="10.14" fill="#0000FF"/>
<text x="468.85" y="431.32" font-size="8.6" text-anchor="middle" fill="#fff" stroke="#fff" stroke-width="0.22" textLength="27.30" lengthAdjust="spacingAndGlyphs">NORM</text>
<rect x="451.80" y="432.32" width="34.10" height="10.14" fill="#FFC000"/>
<text x="468.85" y="441.40" font-size="8.6" text-anchor="middle" stroke="#000" stroke-width="0.22" textLength="15.20" lengthAdjust="spacingAndGlyphs">STR</text>
<rect x="451.80" y="442.41" width="34.10" height="10.14" fill="#0000FF"/>
<text x="468.85" y="451.49" font-size="8.6" text-anchor="middle" fill="#fff" stroke="#fff" stroke-width="0.22" textLength="19.20" lengthAdjust="spacingAndGlyphs">TUM</text>
<rect x="489.00" y="371.40" width="30.60" height="81.70" fill="#fff"/>
<rect x="490.60" y="373.10" width="3.02" height="7.31" fill="url(#db)"/>
<text x="491.40" y="380.11" font-size="9.0" text-anchor="start" fill="#0c1220" stroke="#0c1220" stroke-width="0.2" textLength="21.80" lengthAdjust="spacingAndGlyphs">0.122</text>
<rect x="490.60" y="383.31" width="2.34" height="7.31" fill="url(#db)"/>
<text x="491.40" y="390.32" font-size="9.0" text-anchor="start" fill="#0c1220" stroke="#0c1220" stroke-width="0.2" textLength="21.80" lengthAdjust="spacingAndGlyphs">0.098</text>
<rect x="490.60" y="393.53" width="0.61" height="7.31" fill="url(#db)"/>
<text x="491.40" y="400.54" font-size="9.0" text-anchor="start" fill="#0c1220" stroke="#0c1220" stroke-width="0.2" textLength="21.80" lengthAdjust="spacingAndGlyphs">0.036</text>
<rect x="490.60" y="403.74" width="4.72" height="7.31" fill="url(#db)"/>
<text x="491.40" y="410.75" font-size="9.0" text-anchor="start" fill="#0c1220" stroke="#0c1220" stroke-width="0.2" textLength="21.80" lengthAdjust="spacingAndGlyphs">0.183</text>
<rect x="490.60" y="413.95" width="2.37" height="7.31" fill="url(#db)"/>
<text x="491.40" y="420.96" font-size="9.0" text-anchor="start" fill="#0c1220" stroke="#0c1220" stroke-width="0.2" textLength="21.80" lengthAdjust="spacingAndGlyphs">0.099</text>
<rect x="490.60" y="424.16" width="0.58" height="7.31" fill="url(#db)"/>
<text x="491.40" y="431.18" font-size="9.0" text-anchor="start" fill="#0c1220" stroke="#0c1220" stroke-width="0.2" textLength="21.80" lengthAdjust="spacingAndGlyphs">0.035</text>
<rect x="490.60" y="434.38" width="5.59" height="7.31" fill="url(#db)"/>
<text x="491.40" y="441.39" font-size="9.0" text-anchor="start" fill="#0c1220" stroke="#0c1220" stroke-width="0.2" textLength="21.80" lengthAdjust="spacingAndGlyphs">0.214</text>
<rect x="490.60" y="444.59" width="5.51" height="7.31" fill="url(#db)"/>
<text x="491.40" y="451.60" font-size="9.0" text-anchor="start" fill="#0c1220" stroke="#0c1220" stroke-width="0.2" textLength="21.80" lengthAdjust="spacingAndGlyphs">0.211</text>
<path d="M489.00 371.40H519.60M489.00 381.61H519.60M489.00 391.83H519.60M489.00 402.04H519.60M489.00 412.25H519.60M489.00 422.46H519.60M489.00 432.68H519.60M489.00 442.89H519.60M489.00 453.10H519.60M489.00 371.40V453.10M519.60 371.40V453.10" fill="none" stroke="#6a6a6a" stroke-width="1"/>
<clipPath id="cp9"><rect x="526.60" y="183.60" width="82.90" height="82.60"/></clipPath>
<rect x="526.60" y="183.60" width="82.90" height="82.60" fill="#FBFBFB"/>
<g clip-path="url(#cp9)">
<g filter="url(#tisH)">
<path d="M547.3 207.0C548.2 205.0 549.3 202.7 551.9 200.6C554.5 198.5 559.3 195.8 563.0 194.5C566.7 193.1 570.4 192.4 574.1 192.2C577.8 192.1 581.8 192.3 585.1 193.4C588.5 194.4 591.8 196.6 594.4 198.7C597.0 200.8 599.1 203.2 600.9 206.1C602.6 209.0 604.3 212.7 605.1 216.3C605.9 219.8 605.9 224.0 605.5 227.4C605.1 230.7 603.9 234.1 602.7 236.6C601.5 239.1 600.7 241.1 598.1 242.1C595.5 243.2 590.7 242.7 587.0 243.1C583.3 243.4 579.9 244.8 575.9 244.4C571.9 244.0 566.7 242.0 563.0 240.7C559.3 239.4 556.2 238.5 553.7 236.6C551.3 234.7 549.6 232.0 548.2 229.2C546.8 226.4 545.8 222.7 545.4 220.0C545.0 217.2 545.7 214.7 546.0 212.6C546.3 210.4 546.3 209.0 547.3 207.0Z" fill="#667AB2"/>
<path d="M529.7 220.9C530.9 218.8 533.9 217.7 536.2 217.6C538.5 217.4 542.0 218.0 543.6 220.0C545.1 221.9 545.4 226.3 545.4 229.2C545.4 232.1 544.8 235.1 543.6 237.5C542.3 240.0 540.0 243.7 538.0 244.0C536.1 244.3 533.5 241.7 531.9 239.4C530.4 237.1 529.1 233.2 528.8 230.1C528.4 227.1 528.5 223.0 529.7 220.9Z" fill="#667AB2"/>
<path d="M538.9 245.5C539.2 243.8 544.2 243.2 548.2 243.3C552.2 243.3 558.5 244.7 563.0 245.8C567.4 247.0 571.0 250.0 575.0 250.3C579.0 250.6 582.8 248.6 587.0 247.7C591.2 246.8 598.2 244.2 599.9 244.9C601.6 245.6 599.0 249.7 597.2 251.8C595.3 253.8 592.1 255.9 588.8 257.3C585.6 258.7 581.5 259.8 577.8 260.1C574.1 260.3 570.4 259.3 566.7 258.8C563.0 258.3 559.0 257.9 555.6 256.9C552.2 256.0 549.1 255.1 546.3 253.2C543.6 251.3 538.6 247.1 538.9 245.5Z" fill="#667AB2"/>
</g>
</g>
<rect x="526.60" y="183.60" width="82.90" height="82.60" fill="none" stroke="#222" stroke-width="1.2"/>
<circle cx="536.00" cy="191.50" r="5.6" fill="#fff" stroke="#111" stroke-width="0.9"/>
<text x="536.00" y="194.81" font-size="9.2" text-anchor="middle" fill="#111" stroke="#111" stroke-width="0.1">9</text>
<text x="606.20" y="236.90" font-size="8.8" text-anchor="end" font-weight="bold" stroke="#000" stroke-width="0.15" textLength="60.50" lengthAdjust="spacingAndGlyphs">TCGA-E7-A5KE</text>
<text x="606.20" y="248.60" font-size="8.8" text-anchor="end" fill="#1a1a1a" stroke="#1a1a1a" stroke-width="0.15" textLength="31.60" lengthAdjust="spacingAndGlyphs">CrM-low</text>
<text x="606.20" y="259.90" font-size="8.8" text-anchor="end" fill="#1a1a1a" stroke="#1a1a1a" stroke-width="0.15" textLength="20.30" lengthAdjust="spacingAndGlyphs">LumP</text>
<rect x="616.70" y="184.20" width="33.60" height="10.20" fill="#FFC000"/>
<text x="633.50" y="193.33" font-size="8.6" text-anchor="middle" stroke="#000" stroke-width="0.22" textLength="12.40" lengthAdjust="spacingAndGlyphs">ADI</text>
<rect x="616.70" y="194.35" width="33.60" height="10.20" fill="#0000FF"/>
<text x="633.50" y="203.48" font-size="8.6" text-anchor="middle" fill="#fff" stroke="#fff" stroke-width="0.22" textLength="15.90" lengthAdjust="spacingAndGlyphs">DEB</text>
<rect x="616.70" y="204.50" width="33.60" height="10.20" fill="#FF0000"/>
<text x="633.50" y="213.63" font-size="8.6" text-anchor="middle" fill="#3a0000" stroke="#3a0000" stroke-width="0.22" textLength="16.60" lengthAdjust="spacingAndGlyphs">LYM</text>
<rect x="616.70" y="214.65" width="33.60" height="10.20" fill="#D9D9D9"/>
<text x="633.50" y="223.78" font-size="8.6" text-anchor="middle" fill="#111" stroke="#111" stroke-width="0.22" textLength="18.30" lengthAdjust="spacingAndGlyphs">MUC</text>
<rect x="616.70" y="224.80" width="33.60" height="10.20" fill="#FFC000"/>
<text x="633.50" y="233.93" font-size="8.6" text-anchor="middle" stroke="#000" stroke-width="0.22" textLength="18.20" lengthAdjust="spacingAndGlyphs">MUS</text>
<rect x="616.70" y="234.95" width="33.60" height="10.20" fill="#0000FF"/>
<text x="633.50" y="244.08" font-size="8.6" text-anchor="middle" fill="#fff" stroke="#fff" stroke-width="0.22" textLength="27.30" lengthAdjust="spacingAndGlyphs">NORM</text>
<rect x="616.70" y="245.10" width="33.60" height="10.20" fill="#FFC000"/>
<text x="633.50" y="254.23" font-size="8.6" text-anchor="middle" stroke="#000" stroke-width="0.22" textLength="15.20" lengthAdjust="spacingAndGlyphs">STR</text>
<rect x="616.70" y="255.25" width="33.60" height="10.20" fill="#0000FF"/>
<text x="633.50" y="264.38" font-size="8.6" text-anchor="middle" fill="#fff" stroke="#fff" stroke-width="0.22" textLength="19.20" lengthAdjust="spacingAndGlyphs">TUM</text>
<rect x="654.00" y="183.80" width="31.50" height="82.20" fill="#fff"/>
<rect x="655.60" y="185.50" width="0.61" height="7.38" fill="url(#db)"/>
<text x="656.40" y="192.57" font-size="9.0" text-anchor="start" fill="#0c1220" stroke="#0c1220" stroke-width="0.2" textLength="21.80" lengthAdjust="spacingAndGlyphs">0.036</text>
<rect x="655.60" y="195.77" width="5.90" height="7.38" fill="url(#db)"/>
<text x="656.40" y="202.85" font-size="9.0" text-anchor="start" fill="#0c1220" stroke="#0c1220" stroke-width="0.2" textLength="21.80" lengthAdjust="spacingAndGlyphs">0.225</text>
<rect x="655.60" y="206.05" width="0.25" height="7.38" fill="url(#db)"/>
<text x="656.40" y="213.12" font-size="9.0" text-anchor="start" fill="#0c1220" stroke="#0c1220" stroke-width="0.2" textLength="21.80" lengthAdjust="spacingAndGlyphs">0.002</text>
<rect x="655.60" y="216.32" width="0.30" height="7.38" fill="url(#db)"/>
<text x="656.40" y="223.40" font-size="9.0" text-anchor="start" fill="#0c1220" stroke="#0c1220" stroke-width="0.2" textLength="21.80" lengthAdjust="spacingAndGlyphs">0.025</text>
<rect x="655.60" y="226.60" width="6.77" height="7.38" fill="url(#db)"/>
<text x="656.40" y="233.67" font-size="9.0" text-anchor="start" fill="#0c1220" stroke="#0c1220" stroke-width="0.2" textLength="21.80" lengthAdjust="spacingAndGlyphs">0.256</text>
<rect x="655.60" y="236.88" width="0.33" height="7.38" fill="url(#db)"/>
<text x="656.40" y="243.95" font-size="9.0" text-anchor="start" fill="#0c1220" stroke="#0c1220" stroke-width="0.2" textLength="21.80" lengthAdjust="spacingAndGlyphs">0.026</text>
<rect x="655.60" y="247.15" width="0.25" height="7.38" fill="url(#db)"/>
<text x="656.40" y="254.22" font-size="9.0" text-anchor="start" fill="#0c1220" stroke="#0c1220" stroke-width="0.2" textLength="21.80" lengthAdjust="spacingAndGlyphs">0.018</text>
<rect x="655.60" y="257.43" width="10.97" height="7.38" fill="url(#db)"/>
<text x="656.40" y="264.50" font-size="9.0" text-anchor="start" fill="#0c1220" stroke="#0c1220" stroke-width="0.2" textLength="21.80" lengthAdjust="spacingAndGlyphs">0.406</text>
<path d="M654.00 183.80H685.50M654.00 194.07H685.50M654.00 204.35H685.50M654.00 214.62H685.50M654.00 224.90H685.50M654.00 235.18H685.50M654.00 245.45H685.50M654.00 255.72H685.50M654.00 266.00H685.50M654.00 183.80V266.00M685.50 183.80V266.00" fill="none" stroke="#6a6a6a" stroke-width="1"/>
<clipPath id="cp10"><rect x="526.60" y="276.50" width="82.95" height="83.10"/></clipPath>
<rect x="526.60" y="276.50" width="82.95" height="83.10" fill="#FBFBFB"/>
<g clip-path="url(#cp10)">
<g filter="url(#tisB)">
<path d="M542.8 276.9C544.7 275.1 547.8 275.9 550.3 276.0C552.8 276.1 556.2 276.2 557.8 277.5C559.3 278.7 558.7 280.6 559.6 283.5C560.6 286.3 562.4 294.1 563.4 294.7C564.4 295.3 564.8 289.3 565.6 287.2C566.5 285.1 565.9 282.7 568.6 282.0C571.4 281.3 579.5 281.8 582.1 283.1C584.7 284.4 583.2 289.1 584.3 290.0C585.4 291.0 586.5 288.6 588.6 288.7C590.7 288.9 594.5 289.3 597.0 291.0C599.5 292.6 602.1 295.0 603.6 298.4C605.0 301.9 605.8 308.1 605.6 311.5C605.5 314.9 602.8 316.3 602.6 319.0C602.5 321.6 604.6 324.3 604.9 327.4C605.2 330.5 604.4 334.4 604.5 337.7C604.6 341.0 606.3 344.4 605.6 347.0C605.0 349.7 603.6 352.3 600.8 353.6C597.9 354.9 591.7 353.9 588.6 354.9C585.5 355.8 586.3 358.8 582.1 359.2C577.9 359.6 568.7 357.4 563.4 357.1C558.1 356.8 554.7 357.9 550.3 357.5C545.9 357.1 540.5 355.8 537.2 354.7C533.9 353.6 532.1 353.3 530.7 350.8C529.3 348.2 528.8 343.0 528.8 339.6C528.8 336.1 529.6 333.0 530.7 330.2C531.8 327.4 534.3 325.5 535.3 322.7C536.4 319.9 537.5 315.9 537.2 313.4C536.9 310.9 533.8 310.3 533.5 307.8C533.2 305.3 534.4 301.9 535.3 298.4C536.3 295.0 537.8 290.8 539.1 287.2C540.3 283.6 541.0 278.8 542.8 276.9Z" fill="#7FA5DB"/>
</g>
<g filter="url(#bl0)">
<path d="M560.2 283.5C560.5 280.7 562.0 283.8 562.6 287.2C563.3 290.6 563.9 299.9 563.9 304.0C564.0 308.2 563.5 311.9 563.0 311.9C562.5 311.9 561.6 308.8 561.1 304.0C560.7 299.3 560.0 286.3 560.2 283.5Z" fill="#fff"/>
<path d="M566.2 312.6C568.4 311.0 578.4 310.3 582.1 310.6C585.7 310.9 588.1 313.0 588.1 314.3C588.1 315.6 585.3 317.3 582.1 318.2C578.9 319.2 571.6 321.0 569.0 320.1C566.3 319.2 564.0 314.2 566.2 312.6Z" fill="#fff"/>
<path d="M583.9 284.4C583.9 286.1 583.1 291.7 583.6 294.7C584.0 297.7 586.2 300.9 586.8 302.2" fill="none" stroke="#fff" stroke-opacity="0.7" stroke-width="1.0"/>
<path d="M546.6 296.6C547.5 299.1 551.9 307.2 552.2 311.5C552.5 315.9 549.1 320.9 548.4 322.7" fill="none" stroke="#fff" stroke-opacity="0.7" stroke-width="1.0"/>
<path d="M588.6 319.0C589.6 321.2 593.9 327.4 594.2 332.1C594.5 336.8 591.1 344.5 590.5 347.0" fill="none" stroke="#fff" stroke-opacity="0.7" stroke-width="1.0"/>
<path d="M542.8 332.1C545.0 333.0 551.5 337.7 555.9 337.7C560.3 337.7 566.8 333.0 569.0 332.1" fill="none" stroke="#fff" stroke-opacity="0.7" stroke-width="1.0"/>
<path d="M571.8 325.5C572.6 327.6 576.2 333.5 576.5 337.7C576.8 341.9 574.1 348.6 573.7 350.8" fill="none" stroke="#fff" stroke-opacity="0.7" stroke-width="1.0"/>
</g>
</g>
<rect x="526.60" y="276.50" width="82.95" height="83.10" fill="none" stroke="#222" stroke-width="1.2"/>
<circle cx="535.30" cy="284.60" r="5.6" fill="#fff" stroke="#111" stroke-width="0.9"/>
<text x="535.30" y="287.91" font-size="9.2" text-anchor="middle" fill="#111" textLength="7.40" lengthAdjust="spacingAndGlyphs">10</text>
<text x="606.20" y="329.10" font-size="8.8" text-anchor="end" font-weight="bold" stroke="#000" stroke-width="0.15" textLength="64.40" lengthAdjust="spacingAndGlyphs">TCGA-CF-A9FM</text>
<text x="606.20" y="341.50" font-size="8.8" text-anchor="end" fill="#1a1a1a" stroke="#1a1a1a" stroke-width="0.15" textLength="32.40" lengthAdjust="spacingAndGlyphs">CrM-low</text>
<text x="606.20" y="352.60" font-size="8.8" text-anchor="end" fill="#1a1a1a" stroke="#1a1a1a" stroke-width="0.15" textLength="20.30" lengthAdjust="spacingAndGlyphs">LumP</text>
<rect x="616.70" y="277.90" width="33.60" height="10.23" fill="#FFC000"/>
<text x="633.50" y="287.06" font-size="8.6" text-anchor="middle" stroke="#000" stroke-width="0.22" textLength="12.40" lengthAdjust="spacingAndGlyphs">ADI</text>
<rect x="616.70" y="288.07" width="33.60" height="10.23" fill="#0000FF"/>
<text x="633.50" y="297.23" font-size="8.6" text-anchor="middle" fill="#fff" stroke="#fff" stroke-width="0.22" textLength="15.90" lengthAdjust="spacingAndGlyphs">DEB</text>
<rect x="616.70" y="298.25" width="33.60" height="10.23" fill="#FF0000"/>
<text x="633.50" y="307.41" font-size="8.6" text-anchor="middle" fill="#3a0000" stroke="#3a0000" stroke-width="0.22" textLength="16.60" lengthAdjust="spacingAndGlyphs">LYM</text>
<rect x="616.70" y="308.43" width="33.60" height="10.23" fill="#D9D9D9"/>
<text x="633.50" y="317.58" font-size="8.6" text-anchor="middle" fill="#111" stroke="#111" stroke-width="0.22" textLength="18.30" lengthAdjust="spacingAndGlyphs">MUC</text>
<rect x="616.70" y="318.60" width="33.60" height="10.23" fill="#FFC000"/>
<text x="633.50" y="327.76" font-size="8.6" text-anchor="middle" stroke="#000" stroke-width="0.22" textLength="18.20" lengthAdjust="spacingAndGlyphs">MUS</text>
<rect x="616.70" y="328.77" width="33.60" height="10.23" fill="#0000FF"/>
<text x="633.50" y="337.93" font-size="8.6" text-anchor="middle" fill="#fff" stroke="#fff" stroke-width="0.22" textLength="27.30" lengthAdjust="spacingAndGlyphs">NORM</text>
<rect x="616.70" y="338.95" width="33.60" height="10.23" fill="#FFC000"/>
<text x="633.50" y="348.11" font-size="8.6" text-anchor="middle" stroke="#000" stroke-width="0.22" textLength="15.20" lengthAdjust="spacingAndGlyphs">STR</text>
<rect x="616.70" y="349.12" width="33.60" height="10.23" fill="#0000FF"/>
<text x="633.50" y="358.28" font-size="8.6" text-anchor="middle" fill="#fff" stroke="#fff" stroke-width="0.22" textLength="19.20" lengthAdjust="spacingAndGlyphs">TUM</text>
<rect x="654.00" y="277.50" width="31.50" height="82.40" fill="#fff"/>
<rect x="655.60" y="279.20" width="1.39" height="7.40" fill="url(#db)"/>
<text x="656.40" y="286.30" font-size="9.0" text-anchor="start" fill="#0c1220" stroke="#0c1220" stroke-width="0.2" textLength="21.80" lengthAdjust="spacingAndGlyphs">0.064</text>
<rect x="655.60" y="289.50" width="1.48" height="7.40" fill="url(#db)"/>
<text x="656.40" y="296.60" font-size="9.0" text-anchor="start" fill="#0c1220" stroke="#0c1220" stroke-width="0.2" textLength="21.80" lengthAdjust="spacingAndGlyphs">0.067</text>
<rect x="655.60" y="299.80" width="0.25" height="7.40" fill="url(#db)"/>
<text x="656.40" y="306.90" font-size="9.0" text-anchor="start" fill="#0c1220" stroke="#0c1220" stroke-width="0.2" textLength="21.80" lengthAdjust="spacingAndGlyphs">0.017</text>
<rect x="655.60" y="310.10" width="0.25" height="7.40" fill="url(#db)"/>
<text x="656.40" y="317.20" font-size="9.0" text-anchor="start" fill="#0c1220" stroke="#0c1220" stroke-width="0.2" textLength="21.80" lengthAdjust="spacingAndGlyphs">0.008</text>
<rect x="655.60" y="320.40" width="1.67" height="7.40" fill="url(#db)"/>
<text x="656.40" y="327.50" font-size="9.0" text-anchor="start" fill="#0c1220" stroke="#0c1220" stroke-width="0.2" textLength="21.80" lengthAdjust="spacingAndGlyphs">0.074</text>
<rect x="655.60" y="330.70" width="0.41" height="7.40" fill="url(#db)"/>
<text x="656.40" y="337.80" font-size="9.0" text-anchor="start" fill="#0c1220" stroke="#0c1220" stroke-width="0.2" textLength="21.80" lengthAdjust="spacingAndGlyphs">0.029</text>
<rect x="655.60" y="341.00" width="1.50" height="7.40" fill="url(#db)"/>
<text x="656.40" y="348.10" font-size="9.0" text-anchor="start" fill="#0c1220" stroke="#0c1220" stroke-width="0.2" textLength="21.80" lengthAdjust="spacingAndGlyphs">0.068</text>
<rect x="655.60" y="351.30" width="18.28" height="7.40" fill="url(#db)"/>
<text x="656.40" y="358.40" font-size="9.0" text-anchor="start" fill="#0c1220" stroke="#0c1220" stroke-width="0.2" textLength="21.80" lengthAdjust="spacingAndGlyphs">0.667</text>
<path d="M654.00 277.50H685.50M654.00 287.80H685.50M654.00 298.10H685.50M654.00 308.40H685.50M654.00 318.70H685.50M654.00 329.00H685.50M654.00 339.30H685.50M654.00 349.60H685.50M654.00 359.90H685.50M654.00 277.50V359.90M685.50 277.50V359.90" fill="none" stroke="#6a6a6a" stroke-width="1"/>
</svg>
</body></html>
